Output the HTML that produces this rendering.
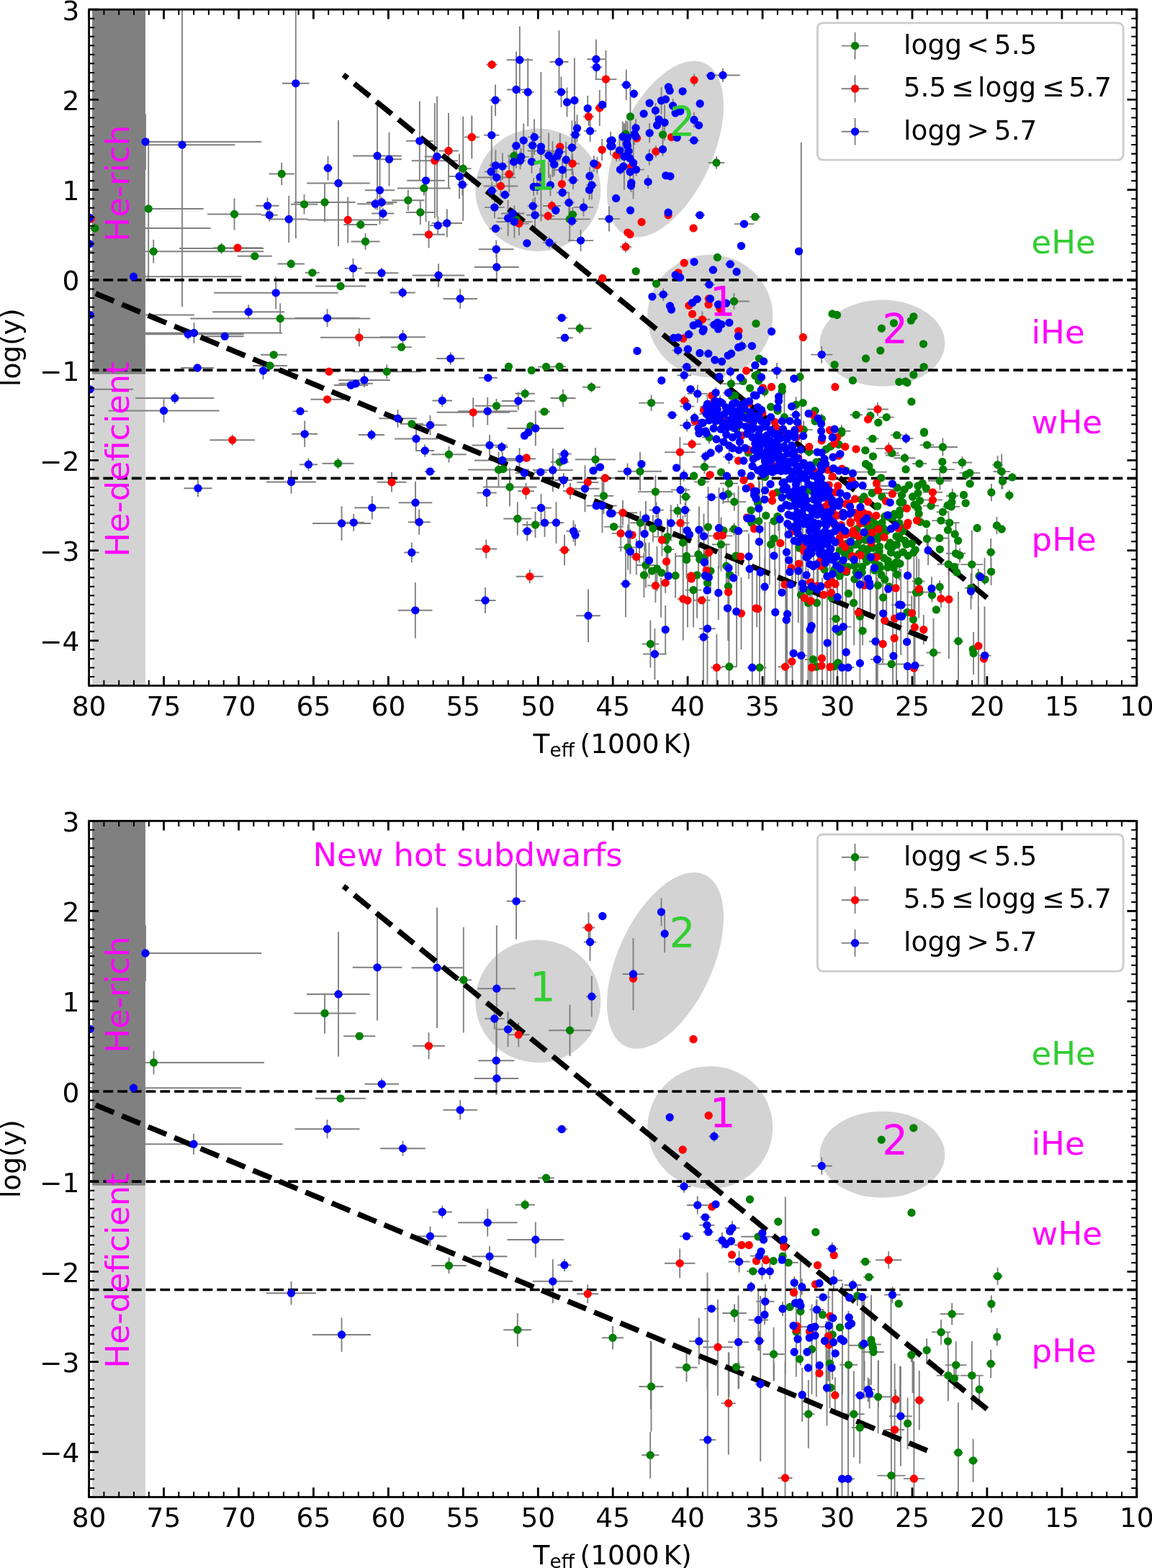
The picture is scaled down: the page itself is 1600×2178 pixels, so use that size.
<!DOCTYPE html>
<html lang="en"><head><meta charset="utf-8">
<title>log(y) versus Teff for hot subdwarfs</title>
<style>
html,body{margin:0;padding:0;background:#fff}
svg{display:block}
text{font-family:"DejaVu Sans","Liberation Sans",sans-serif}
.tl0{font-size:37.5px}
.tlx{font-size:37.6px}
.lg{font-size:37.5px}
.xl{font-size:37.5px}
.sub{font-size:26.3px}
.an{font-size:45px}
.dg{font-size:56.25px}
.eb{fill:none;stroke:#808080;stroke-width:1.875}
.hl{fill:none;stroke:#000;stroke-width:3.7;stroke-dasharray:13.79 5.96}
.tl{fill:none;stroke:#000;stroke-width:7.45;stroke-dasharray:27.55 11.91}
.mkg,.mkr,.mkb{fill:none;stroke-width:11.3;stroke-linecap:round}
.mkg{stroke:#008000}.mkr{stroke:#ff0000}.mkb{stroke:#0000ff}
.tk{fill:none;stroke:#000;stroke-width:2.8}
.mk{fill:none;stroke:#000;stroke-width:2.05}
.fr{fill:none;stroke:#000;stroke-width:2.8}
</style></head><body>
<svg width="1600" height="2178" viewBox="0 0 1600 2178">
<defs>
<clipPath id="clip0"><rect x="123.6" y="13.2" width="1455.2" height="939.2"/></clipPath>
<clipPath id="clip1"><rect x="123.6" y="1140.3" width="1455.2" height="939.2"/></clipPath>
</defs>
<rect width="1600" height="2178" fill="#fff"/>
<g>
<g clip-path="url(#clip0)">
<rect x="128.1" y="13.2" width="73.8" height="939.2" fill="#d3d3d3"/>
<ellipse cx="747.3" cy="263.7" rx="87" ry="85.2" fill="#d3d3d3"/>
<ellipse cx="924" cy="207.2" rx="131.3" ry="65.8" transform="rotate(-65.4 924 207.2)" fill="#d3d3d3"/>
<ellipse cx="986.3" cy="439.0" rx="87" ry="85.2" fill="#d3d3d3"/>
<ellipse cx="1225.4" cy="476.6" rx="87" ry="60" fill="#d3d3d3"/>
<path class="eb" d="M40.8 197H363.2M202 158.2V235.8M179.8 201.2H326.2M253 -23.8V426.2M373.8 241.5H408.8M391.2 226V257M130 290H282.5M206.2 192.5V387.5M288 297.5H363M325.5 275.5V319.5M355.5 285.8H387.5M371.5 274.5V297M363 298.8H385.5M374.2 290V307.5M-29 317H292.5M60.2 349.2H366.2M213.2 333V365.5M248.8 345H366.2M307.5 337.5V352.5M295.8 344.2H364.2M330 355.8H377.5M35.5 384.2H335.5M392 115.8H429.5M410.8 -99.8V331.2M449.2 233.5H461.8M455.5 216.5V250.5M426.2 254.5H513.8M470 167V342M403.8 283.8H441.2M422.5 270V297.5M408.5 281H493.5M451 253.5V308.5M375 304.5H427.5M401.2 272V337M427 305.5H539.5M483.2 273.5V337.5M477.5 312H524M500.8 305.8V318.2M487.5 335.5H527.5M507.5 324.2V346.8M385.5 366.5H423M404.2 360.2V372.8M423.8 378.8H443.8M478.5 372.8H502.5M490.5 359V386.5M506.8 379.2H553.2M530 371.8V386.8M438 397.5H508M490.2 216.5H557.8M524 141.5V291.5M523 221.2H558M540.5 183.8V258.8M507 264.2H548M527.5 216.8V311.8M496.2 283.2H546.2M521.2 275.8V290.8M509 281H551.5M530.2 273.5V288.5M516.2 296.5H547.2M531.8 289V304M544.2 278.2H589.2M566.8 263.8V292.8M551.8 261.5H625.8M588.8 251.5V271.5M563.8 295H603.8M583.8 278V312M565.2 250.8H617.8M591.5 193.2V308.2M564 195.8H601.5M582.8 140.8V250.8M571.8 223.2H635.8M603.8 143.2V303.2M589.5 217.5H624.5M607 133.8V301.2M609.2 209.5H636.8M623 157V262M632 234.2H654.5M643.2 161.8V306.8M623 245H653M638 213.8V276.2M634.8 256.5H649.8M642.2 241.5V271.5M644.8 190.5H665.8M655.2 160.5V220.5M597 313.2H619.5M608.2 300.8V325.8M599.5 310H642M620.8 290.5V329.5M573 325.8H618M595.5 307V344.5M572.8 382.5H645.2M609 366.2V398.8M645.4 190.4H665.4M655.4 160.4V220.4M672.1 187.8H693.4M682.8 146.5V229M733.4 190.4H750.9M742.1 165.4V215.4M727.2 171.4V218.9M710.6 202.5H723.1M716.9 171.2V233.8M732.1 201.9H747.1M739.6 183.1V220.6M751.4 100V307.5M732.6 209.5H770.1M751.4 194.5V224.5M771.5 204H784M777.8 185.2V222.8M786.9 205H801.9M794.4 167.5V242.5M801.5 159.5V197M791.5 187.2H806.5M799 168.5V206M810.9 181.9H828.4M819.6 166.9V196.9M810 161.9H825M817.5 149.4V174.4M836.2 193.1V223.1M841.9 195.6H854.4M848.1 183.1V208.1M847.8 190.6V215.6M705.2 216.5H722.8M714 201.5V231.5M712.5 217.9H735M723.8 205.4V230.4M715 223.1H730M722.5 210.6V235.6M704.8 224.8H722.2M713.5 206V243.5M732.2 224.6H744.8M738.5 208.4V240.9M754.6 215.9H769.6M762.1 184.6V247.1M766.6 210.9H786.6M776.6 198.4V223.4M768.1 216.2H780.6M774.4 201.2V231.2M767.5 196.2V246.2M763.4 228.4H775.9M769.6 212.1V244.6M780 221.9H792.5M786.2 196.9V246.9M785.1 227.2H805.1M795.1 214.8V239.8M767.5 236H795M781.2 223.5V248.5M818.5 227.2H831M824.8 216V238.5M823.1 229.4H835.6M829.4 218.1V240.6M679.6 229.8H697.1M688.4 208.5V251M690.4 231.1H705.4M697.9 212.4V249.9M672.8 238.5H691.5M682.1 226V251M663.4 246.5H715.9M689.6 234V259M699.8 241.9H714.8M707.2 216.9V266.9M671.8 258.5H719.2M695.5 243.5V273.5M675.8 265H690.8M683.2 252.5V277.5M693.9 270.5H708.9M701.4 264.2V276.8M750 233.4V258.4M741.2 246.9V271.9M746.2 248.1V270.6M764.4 242.2V272.2M780.4 243.1V268.1M788.4 250.2H803.4M795.9 237.8V262.8M819 232V257M814.4 257.2H829.4M821.9 237.2V277.2M818.5 250V277.5M773.1 267.5H789.4M781.2 261.2V273.8M782.8 281.5H797.8M790.2 266.5V296.5M796.8 287.9H824.2M810.5 275.4V300.4M673.1 288.1H700.6M686.9 273.1V303.1M732.8 286.2H747.8M740.2 276.2V296.2M754 286H779M766.5 278.5V293.5M771.9 286V298.5M731.2 298.8H755M743.1 273.8V323.8M752.4 300H769.9M761.1 293.8V306.2M789.1 298.1H801.6M795.4 288.1V308.1M762.5 304.4H820M791.2 274.4V334.4M786.2 307H802.5M794.4 299.5V314.5M695.9 296.5H728.4M712.1 289V304M690.6 303.1H720.6M705.6 278.1V328.1M689.4 308.1H739.4M714.4 285.6V330.6M707.1 310.6H734.6M720.9 294.4V326.9M679.6 317.5H697.1M753.8 336.9H772.5M763.1 329.4V344.4M789 334.1H824M806.5 319.1V349.1M664.9 346.2H713.6M689.2 333.8V358.8M831 304.1H861M846 286.6V321.6M675.6 89.8H690.6M683.1 83.5V96M703.6 83.2H739.9M721.8 36.4V130.1M763.4 86H789.6M776.5 42.2V129.8M703.9 124.5H730.1M717 71.4V177.6M725.1 128H741.4M733.2 80.5V175.5M679.9 139.2H696.1M688 117.4V161.1M770.1 127.8H788.9M779.5 106.5V149M787.5 121.4V162.6M797.9 80.6V198.1M815.4 82.2H840.4M827.9 54.8V109.8M820.2 93.4H836.5M828.4 85.9V100.9M826.5 110.1H856.5M841.5 70.1V150.1M816.2 133.1V168.1M826.5 150H839M832.8 125V175M862.2 117.9H877.2M869.8 96.6V139.1M880.4 124V136.5M964.1 102.5V120M981.1 105.4H993.6M980.2 104.5H1027.8M1004 95.1V113.9M918.5 121V158.5M934.6 136.9V156.9M910.4 143.5V163.5M875.5 118.1V205.6M923.1 145.2V195.2M964 155.9V177.1M883.1 165.2V190.2M902.2 171V198.5M920.6 174.6V199.6M869.1 167.5V205M864.8 168.8V211.2M871.5 168.8V213.8M881.2 171.2V201.2M956.2 195H971.2M843.8 195H856.2M870.6 181.9V216.9M860.6 193.8V223.8M871.5 191.2V213.8M848.8 215.6H863.8M856.2 206.9V224.4M866.9 171.2V263.8M879.6 176.2V276.2M861.5 228.1V243.1M872.2 235.6H894.8M883.5 226.9V244.4M875.2 228.8V248.8M876.5 249.4V266.9M901.8 207.1V229.6M910.9 202.2V218.5M920.5 198.1V216.9M900.1 243.2V262M983.8 226H1006.2M995 217.2V234.8M875 319.1V331.6M860.9 342.9H877.1M869 335.4V350.4M965.1 298.8H978.9M1041.2 301.2H1056.2M1019.8 311.1H1047.2M1007.2 366.9H1021M984.1 374.9H996.6M977.5 395.2H992.5M-20 437.5H270M65 540.8H185M297 406.8H469.5M383.2 384.2V429.2M295.2 433.2H395.2M345.2 423.2V443.2M264.2 442.5H514.2M389.2 421.2V463.8M409.5 441.8H499.5M454.5 429.2V454.2M183.8 464.2H338.8M261.2 456.8V471.8M147 462.5H392M269.5 448V477M286 467.2H338.5M445 468.8H552.5M498.8 456.2V481.2M362 492.8H398.5M351.2 508H398.8M251.2 511H297.2M365.5 503V527M442 516.2H472M463.8 535H511.2M470.5 532.8H518M431.5 554.8H477.5M188.2 553H297.2M242.8 545V561M150.5 570.5H304.5M227.5 554.2V586.8M406.5 571.2H427.5M405.2 602.8H441.2M423.2 584.5V621M291.5 611.2H354M322.8 603.8V618.8M416 645.2H441M428.5 636.5V654M447.5 643.8H491.5M469.5 636.2V651.2M370 669.5H439M404.5 653.2V685.8M255.5 678.2H294.5M275 666.2V690.2M434 727H515M474.5 703.2V750.8M476.2 725.8H506.2M491.2 713.8V737.8M541.8 406.5H576.8M559.2 399V414M615.5 415H663M639.2 401.2V428.8M772.2 441.5H788.2M789 456.2H821.5M805.2 448.8V463.8M773.2 469.2H795.8M528.2 468.2H590.8M559.5 458.2V478.2M543.2 482.2H571.8M606.2 498H645.2M625.8 489.2V506.8M489.8 516.2H584.8M537.2 506.2V526.2M470.2 528H541.8M506 518V538M747.2 509.5H769.8M768.2 509.2H785.8M664.8 524.8H690.8M809 537.8H834M821.5 530.8V544.8M715.5 546.8H743M729.2 539.8V553.8M696.8 557H742.8M719.8 544.5V569.5M764.5 553H799.5M782 541V565M600.5 556.5H628M614.2 547.8V565.2M659.5 563.8H719.5M689.5 553.8V573.8M606.5 572.8H708M657.2 552.2V593.2M636 571.2H718.5M677.2 552V590.5M747.8 571.8H764.2M526.2 581.2H578.8M552.5 568.8V593.8M555.5 588.8H588M574.5 590.5H620.5M597.5 576.8V604.2M498 604H534M516 596.5V611.5M548 609.5H608M578 592V627M577.2 626H603.2M590.2 617.2V634.8M599.2 631.2H647.8M623.5 620V642.5M704.5 595H783M743.8 570.5V619.5M655.5 618.5H704.5M680 604V633M688 621H705.5M696.8 613.5V628.5M699 637.2H744M721.5 622.2V652.2M659 639.5H736.5M697.8 628.2V650.8M650 652.5H735M692.5 627.5V677.5M589.8 655H604.8M715.8 657H740.8M742 655.8H759.5M739.8 653H795.8M767.8 623V683M774.5 630.5H793.5M784 623V638M765 641.8H790M777.5 631.8V651.8M770.2 667H795.2M782.8 657V677M799 638.2H855M827 622V654.5M815.5 664H865.5M801.2 670H831.2M792.5 678.8H832.5M812.5 646.2V711.2M782 682H802M792 670.8V693.2M824.8 688.8H852.2M838.5 663.8V713.8M523.5 669.8H564.5M544 656V683.5M670.5 676.5H745.5M708 649.8V703.2M662.2 684.5H689.8M676 665V704M719.2 682.2H741.8M730.5 671V693.5M492.2 705.2H541.2M516.8 689V721.5M553.8 698.2H600.2M577 668.8V727.8M566.8 725.2H597.8M582.2 707.8V742.8M737.2 705.5H765.8M751.5 686V725M699.2 720.5H738.2M718.8 697.2V743.8M725.5 729H761.5M743.5 711V747M746.5 726.2H766.5M756.5 706.8V745.8M762 726H783M772.5 697.2V754.8M724.8 737.8H739.8M732.2 724V751.5M786.5 737.8H806.5M796.5 722.8V752.8M799 728.2V758.2M814.5 702.5H842M816.5 702.5H856.5M836.5 665V740M561.2 767.5H582.2M571.8 753.8V781.2M660.2 762.5H690.2M675.2 749.5V775.5M776.5 764H791.5M784 742.8V785.2M717 800.8H754.5M735.8 791.2V810.2M553 847.8H600.5M576.8 809V886.5M659.5 834H688.5M674 816V852M800.2 855.2H833.8M817 818.5V892M913.8 409.1H928.8M921.2 400.4V417.9M961.9 415.6H974.4M998.2 418.5H1040.8M1019.5 407.2V429.8M964.1 443.8H986.6M975.4 432.5V455M984.4 451.2H999.4M949.1 464.4H964.1M956.6 458.1V470.6M933.5 486.6H949.8M941.6 479.1V494.1M1022.9 480.6H1037.9M1030.4 473.1V488.1M946.2 509.6H961.2M953.8 504V515.2M940.5 521.2H960M950.2 512.5V530M1014.4 508.8V523.8M1022.2 524.6H1034.8M1028.5 518.4V530.9M1002.9 533.1H1027.9M1015.4 525.6V540.6M952.9 540.6H965.4M954.4 546.9H983.1M968.8 534.4V559.4M980 549.6H997.5M994.1 538.1V553.1M1004 545.6H1019M1011.5 539.4V551.9M887.1 559.6H922.1M904.6 548.4V570.9M943.2 556.9H958.2M950.8 549.4V564.4M944.4 564.5H964.4M954.4 557V572M926 576.6H941M958.4 580.4H970.9M964.6 572.9V587.9M944.1 590.8H964.1M954.1 582V599.5M982.5 551.2V571.2M991.2 558.1H1008.8M1000 549.4V566.9M972.5 565H990M991.2 557.5V575M1008.8 559.4V574.4M971.2 575H991.2M981.2 567.5V582.5M968.8 587.5H983.8M993.8 575V595M970 587.5V602.5M1126.2 492.6H1156.2M1141.2 480.8V504.5M1067.1 515.2H1090.9M1079 504V526.5M1110.9 517.2V529.8M1061.9 536.2V551.2M1105.6 550.9V573.4M1089.4 541.9V616.9M1097.2 576.2H1113.5M1125.6 570.6H1138.1M1141.2 574.4V589.4M1103.8 596.9H1128.8M1116.2 584.4V609.4M1156.2 598.8H1181.2M1168.8 590V607.5M1180.4 576.2H1197.9M1208.8 571.2V583.8M1204.2 568.5H1233.8M1219 559.1V577.9M1220.6 579.6H1241.9M948.6 616.9H973.6M961.1 610V623.8M923.1 628.1H965.6M944.4 606.9V649.4M857.8 654.8H885.2M871.5 643.5V666M859 654.8H919M889 627.9V681.6M943.5 660.4H956M949.8 652.2V668.5M962.1 648.5H994.6M978.4 638.5V658.5M963.8 669.4H985M1000 671.5H1025M972.5 633.8H987.5M980 626.2V641.2M998.5 615.6V630.6M1003.8 634.6H1021.2M1012.5 624.6V644.6M975 607.5H995M985 598.8V616.2M886 683.1H934.8M910.4 660.6V705.6M931.9 680.4H958.1M945 660.4V700.4M945.6 690H959.4M952.5 677.5V702.5M979.4 690.6H996.9M1004.4 677.5V700M1002.5 686.2H1020M1011.2 676.2V696.2M1003.5 697.1H1036M1019.8 684.6V709.6M901.6 708.5H921.6M911.6 697.2V719.8M930 709.4H952.5M941.2 700V718.8M944 708.5H959M951.5 698.5V718.5M845 712.2H885M865 694.8V729.8M896.9 696V743.5M875.6 726.2H903.1M889.4 710V742.5M914.1 706.9V744.4M931.9 701.6V751.6M932.5 726.5H957.5M945 707.8V745.2M838.8 731.6H866.2M906.9 715.2V752.8M849.8 740.9H874.8M862.2 715.9V765.9M873.5 717.1V767.1M895.2 716.6V766.6M906.9 745.6H946.9M926.9 720.6V770.6M919.4 727.5V772.5M954.4 705.6V768.1M970.9 703.4V768.4M983.5 675.9V788.4M998.5 677.2V789.8M977.5 713.5V776M975 744.4H1017.5M1012.1 735H1027.1M1019.6 726.2V743.8M1011.8 737.5H1039.2M1025.5 675V800M948.4 716.2V791.2M989 756.2H1014M1001.5 718.8V793.8M888.1 731.2V781.2M859 760.4H885.2M872.1 729.1V791.6M875.4 735V797.5M873.8 773.5H893.8M883.8 748.5V798.5M918.8 763.1H936.2M927.5 731.9V794.4M938.5 772.5H968.5M953.5 741.2V803.8M970 738.8V801.2M977.5 743.8V806.2M978.4 756V806M901.5 753.4V803.4M883.1 785H910.6M896.9 753.8V816.2M925.6 755V805M1022.2 740.9V803.4M1040 741.6V804.1M1008.8 755V817.5M986.9 761.9V824.4M894.4 767.5V830M912.5 758.8V821.2M938.1 768.1V830.6M1216.2 623.1H1252.5M1234.4 614.4V631.9M1203.1 609.4H1220.6M1236.9 604.4H1254.4M1228.8 629.4H1248.8M1189.4 655.6H1231.9M1055 668.8V856.2M1062.5 725V825M1068.8 725V812.5M1076.2 725V800M1082.5 725V825M1091.2 725V812.5M1100 737.5V812.5M1105 712.5V812.5M1115 725V812.5M1119.4 725V825M1130 737.5V825M1136.2 737.5V812.5M1152.5 743.8V818.8M1162.5 731.2V818.8M1193.8 743.8V818.8M1200 737.5V812.5M1248.8 731.2V806.2M1053.8 656.2V693.8M1058.8 660V690M1081.2 712.5V737.5M1200 680H1250M1212.5 675H1250M1225 685H1250M1230 632.5H1250M1248.5 609.1H1268.5M1258.5 601.6V616.6M1277.5 618.1H1297.5M1288.8 621H1330M1309.4 608.5V633.5M1241.5 636.2H1271.5M1256.5 629.4V643.1M1266.9 644H1286.9M1293.5 652.1H1326M1322.8 642.5H1350.2M1336.5 633.8V651.2M1332.5 656.9H1361.2M1289.1 667.9H1321.6M1305.4 655.4V680.4M1378.1 645.6H1393.1M1385.6 633.1V658.1M1379.4 655H1403.1M1391.2 630.6V679.4M1392.5 657.1V679.6M1376.9 672.1V695.9M1401.9 680.6V695.6M1281.9 702.5H1304.4M1281.6 683.8H1309.1M1281.6 694.4H1309.1M1314 688.8H1331.5M1322.8 678.8V698.8M1309.4 703.8H1333.1M1300.6 711.2H1318.1M1294.4 723.1H1319.4M1305 726.2H1332.5M1384.4 718.1V741.9M1287.5 734.8V762.2M1292.2 747.5H1317.2M1289.1 743.8V785M1313.8 768.8H1341.2M1333.1 761.5V781.5M1370 767.1H1382.5M1376.2 747.8V786.5M1301.6 783.8H1332.9M1334.1 784.1H1365.4M1349.8 736.6V831.6M1376.6 775.4V812.9M1260.6 772.5V802.5M1269.4 772.5V802.5M1273.1 772.5V802.5M1276.2 776.2V803.8M1317.5 710V800M1367.5 775V812.5M1327.5 725V775M861.5 811H876.5M869 764.8V857.2M899.1 813.4H921.6M910.4 789.6V837.1M924.2 795V823.8M951.9 819.6H974.4M997.8 786V861M940.6 831.9H956.9M948.8 774.4V889.4M955 796.5V871.5M962.8 833.8H986.5M1029.5 802.1V902.1M924.2 840.9V908.4M971.2 873.2H993.8M969.5 885H985M891.5 894.5H915.2M903.4 861.4V927.6M893.1 908.5H925.6M909.4 872.9V944.1M987.2 927.2H1003.5M995.4 881V973.5M1002.2 926H1023.5M1037.9 927.2H1051.6M976.9 827.5V952.5M982.5 827.5V952.5M1012.5 790V952.5M1044.8 790V952.5M1023.1 803.8V926.2M918.1 802.5V857.5M968.1 801.2V858.8M963.1 816.2V871.2M1011.2 790V890M1062.1 775V855M1151.9 859.6H1170.6M1160 870.6H1182.5M1207.2 891H1224.8M1104.6 910.6H1120.9M1080.6 926.2H1100.6M1045.6 927.2H1064.4M1117.5 916H1141.2M1169.1 927.2H1186.6M1209 916H1227.8M1219.4 922.5H1256.9M1055 790V952.5M1061.9 790V952.5M1076.9 790V952.5M1091.2 790V952.5M1093.1 802.5V952.5M1100.6 790V952.5M1112.5 802.5V952.5M1115 790V952.5M1122.5 790V952.5M1125 815V952.5M1127.5 802.5V952.5M1135 790V952.5M1141.9 802.5V952.5M1148.8 790V952.5M1153.8 802.5V952.5M1157.5 815V952.5M1163.1 790V952.5M1170 790V952.5M1175 802.5V952.5M1186.2 783.8V896.2M1194.4 802.5V952.5M1198.1 796.2V896.2M1216.9 790V952.5M1218.8 802.5V952.5M1226.2 808.8V921.2M1240 790V952.5M1245 802.5V952.5M1051.2 796.2V871.2M1108.8 790V865M1208.8 790V852.5M1231.2 790V865M1266.9 807.5H1284.4M1259.4 822.5H1294.4M1294 801.2V833.8M1305.2 806.5V824M1294.5 816.6V836.6M1307 819.1V844.1M1317.9 750V915M1339.8 816.9H1357.2M1348.5 796.2V846.2M1238.1 840.4H1265.6M1282.8 854V895.2M1324.1 890.6H1337.9M1331 821.9V959.4M1286.5 906.5H1306.5M1296.5 859V954M1359 843.5V951M1352.1 878.1V936.9M1359 910.6H1376.5M1258.4 924.4H1283.4M1251.2 790V910M1260.6 790V952.5M1269.4 790V952.5M1270.6 802.5V952.5M1276.2 790V858.8M1367.5 842.5V951.2M1358.8 790V890M1266.2 827.5V852.5M1112.8 198V952M658.8 371H720.8M689.8 350V392"/>
<rect x="128.1" y="13.2" width="73.8" height="506.4" fill="#808080"/>
<path class="hl" d="M123.6 388.9H1578.8"/>
<path class="hl" d="M123.6 514.1H1578.8"/>
<path class="hl" d="M123.6 664.4H1578.8"/>
<path class="tl" d="M1370.9 830.3L477.0 103.9"/>
<path class="tl" d="M1287.8 887.8L123.6 403.9"/>
<path class="mkg" d="M391.2 241.5h0M206.2 290h0M325.5 297.5h0M131.8 317h0M213.2 349.2h0M307.5 345h0M353.8 355.8h0M422.5 283.8h0M451 281h0M500.8 312h0M507.5 335.5h0M404.2 366.5h0M433.8 378.8h0M473 397.5h0M566.8 278.2h0M588.8 261.5h0M583.8 295h0M643.2 234.2h0M714 216.5h0M795.4 298.1h0M791.2 304.4h0M716.9 305h0M875.5 161.9h0M920.6 187.1h0M869.1 186.2h0M995 226h0M1048.8 301.2h0M996.4 357.5h0M883.2 376.8h0M911.5 394.1h0M389.2 442.5h0M380.2 492.8h0M375 508h0M469.5 643.8h0M805.2 456.2h0M557.5 482.2h0M537.2 516.2h0M706.5 509.2h0M738.2 514.5h0M758.5 509.5h0M777 509.2h0M821.5 537.8h0M729.2 546.8h0M782 553h0M689.5 563.8h0M756 571.8h0M571.8 588.8h0M623.5 631.2h0M736.8 592h0M692.5 652.5h0M698.8 651.5h0M777.5 641.8h0M827 638.2h0M838.5 688.8h0M708 676.5h0M718.8 720.5h0M743.5 729h0M1019.5 418.5h0M1050 449.4h0M1031.9 529.4h0M1015.4 533.1h0M1041.6 539.1h0M1048.8 521.9h0M1016.2 550h0M1020.6 549.4h0M904.6 559.6h0M1035 570h0M1022.5 596.2h0M1156 436h0M1162.5 437.5h0M1224.4 456.2h0M1241.5 448.8h0M1222.8 486.9h0M1202.5 497.9h0M1159.1 506.6h0M1184.4 528.4h0M1248.8 530.4h0M1054.4 498.1h0M1051.9 520h0M1053.8 528.8h0M1110.9 523.5h0M1061.9 543.8h0M1086.2 537.5h0M1086.2 543.1h0M1070.6 565.2h0M1080 570.6h0M1105.6 562.1h0M1115.2 559.6h0M1089.4 579.4h0M1131.9 570.6h0M1141.2 581.9h0M1131.9 585h0M1116.2 596.9h0M1168.8 598.8h0M1189.1 576.2h0M1208.8 577.5h0M1231.2 579.6h0M1219.8 586.9h0M1268.8 439.8h0M1265.4 445.2h0M1282.5 477.8h0M1283.1 509.6h0M1268.8 520.5h0M1257.5 530h0M1260 531.6h0M1265.9 557.9h0M1283.5 600h0M889 654.8h0M963.8 661h0M978.4 648.5h0M1001.5 656h0M974.4 669.4h0M1012.5 671.5h0M1039.4 628.8h0M985 607.5h0M910.4 683.1h0M952.5 690h0M1011.2 686.2h0M1019.8 697.1h0M941.2 709.4h0M889.4 726.2h0M852.5 731.6h0M906.9 734h0M926.9 745.6h0M925 750h0M983.5 732.1h0M1005 736.9h0M1019.6 735h0M1043.1 708.8h0M1043.8 726.2h0M948.4 753.8h0M1001.5 756.2h0M872.1 760.4h0M927.5 763.1h0M953.5 772.5h0M953.5 777.5h0M970 770h0M971.9 776.9h0M977.5 775h0M896.9 785h0M1022.2 772.1h0M1008.8 786.2h0M986.9 793.1h0M894.4 798.8h0M905.6 793.1h0M912.5 790h0M918.8 795.6h0M938.1 799.4h0M968.1 798.8h0M1013.8 798.8h0M1168.8 601.2h0M1211.9 609.4h0M1245.6 604.4h0M1201.9 625.6h0M1238.8 629.4h0M1212.5 633.8h0M1153.8 620h0M1147.5 623.8h0M1165 617.5h0M1133.8 641.9h0M1202.5 644.4h0M1206.9 647.5h0M1210.6 655.6h0M1223.8 663.8h0M1123.8 627.5h0M1062.5 662.5h0M1175 653.8h0M1246.2 677.5h0M1211.2 685h0M1225 690h0M1200 690h0M1196.2 693.8h0M1218.8 703.1h0M1250 697.5h0M1250 708.8h0M1079.4 683.8h0M1123.8 681.2h0M1097.5 690h0M1052.5 698.8h0M1063.8 716.2h0M1080 717.5h0M1053.8 723.8h0M1075 723.8h0M1228.8 717.5h0M1240 718.8h0M1212.5 725h0M1225 726.2h0M1197.5 725h0M1206.2 732.5h0M1190 735h0M1231.2 737.5h0M1245 745h0M1236.2 753.8h0M1218.8 748.8h0M1202.5 750h0M1075 748.1h0M1070.6 756.2h0M1112.5 750h0M1110 761.2h0M1190 756.2h0M1180 763.8h0M1206.2 762.5h0M1221.2 766.2h0M1237.5 767.5h0M1233.8 758.8h0M1166.2 765h0M1197.5 763.8h0M1227.5 775h0M1233.8 782.5h0M1248.8 782.5h0M1222.5 788.8h0M1197.5 787.5h0M1187.5 785h0M1158.8 791.2h0M1145 791.2h0M1177.5 787.5h0M1203.8 780h0M1168.8 782.5h0M1185.6 743.5h0M1197.2 794.9h0M1245.3 756.5h0M1213.8 735.6h0M1239.1 760.1h0M1249.6 747.6h0M1218.3 748.4h0M1175.7 761.8h0M1198.6 761.6h0M1194.4 749.9h0M1189.2 794.9h0M1233.2 778.8h0M1173.5 769.5h0M1221.6 759.2h0M1189.2 736.1h0M1215.7 772.7h0M1186.5 785.9h0M1204.4 740.8h0M1248.9 726.6h0M1246.4 770.9h0M1212 719.9h0M1223 742h0M1242.2 714h0M1212.3 743.5h0M1215.2 727.5h0M1224 798.6h0M1175.6 794.7h0M1176.4 755h0M1214.1 779.1h0M1249.1 715.4h0M1202.4 774.9h0M1234.4 718h0M1227.1 733.9h0M1214.7 792.2h0M1244.3 781.5h0M1181.6 773.4h0M1201.1 726.8h0M1193.1 769.2h0M1212.8 761h0M1233 788h0M1187.5 756.4h0M1221.1 785.5h0M1241.2 788.4h0M1204.2 764.7h0M1245.8 798h0M1283.5 601.2h0M1287.5 618.1h0M1309.4 621h0M1256.5 636.2h0M1276.9 644h0M1258.1 651.9h0M1308.8 641.5h0M1309.8 652.1h0M1336.5 642.5h0M1341.9 659.4h0M1346.9 656.9h0M1305.4 667.9h0M1347.2 671.9h0M1385.6 645.6h0M1391.2 655h0M1405.9 662.9h0M1392.5 668.4h0M1376.9 684h0M1401.9 688.1h0M1262.5 673.8h0M1275 675h0M1281.2 671.2h0M1286.2 678.1h0M1256.2 680h0M1252.5 687.5h0M1267.5 690h0M1275 685h0M1277.5 695.6h0M1253.8 698.1h0M1270 701.2h0M1275 706.2h0M1276.2 713.8h0M1250 708.8h0M1293.1 702.5h0M1322.8 688.8h0M1338.5 687.5h0M1321.9 697.5h0M1341.2 698.8h0M1316.2 701.9h0M1321.2 703.8h0M1309.4 711.2h0M1306.9 723.1h0M1318.8 726.2h0M1286.6 727.8h0M1278.1 725h0M1316.5 736.2h0M1326.2 741.9h0M1330.6 751h0M1357.2 733.5h0M1384.4 730h0M1391.2 735h0M1287.5 748.5h0M1304.8 747.5h0M1250 731.2h0M1253.8 737.5h0M1256.9 751.2h0M1258.8 756.2h0M1266.2 755h0M1271.2 763.8h0M1268.8 767.5h0M1254.4 766.9h0M1261.2 771.9h0M1250 783.1h0M1305.4 763.1h0M1327.5 768.8h0M1333.1 771.5h0M1376.2 767.1h0M1317.2 783.8h0M1325.6 787.5h0M1328.8 795h0M1349.8 784.1h0M1376.6 794.1h0M1360 800h0M982.5 810h0M963.1 819.6h0M1011.5 814.4h0M903.4 894.5h0M1012.9 926h0M1166.2 800h0M1186.9 804.4h0M1219.4 813.1h0M1228.8 805h0M1235 815h0M1112.5 826.2h0M1123.8 821.2h0M1122.5 837.5h0M1134.4 837.5h0M1155 830h0M1178.4 824.4h0M1185.6 837.5h0M1226.6 830h0M1194.4 856.2h0M1161.2 859.6h0M1165 877.5h0M1198.1 876.2h0M1055 927.2h0M1129.4 916h0M1134 926.2h0M1158.8 925.6h0M1163.8 920.6h0M1238.1 922.5h0M1368.1 805h0M1275.6 807.5h0M1272.5 823.1h0M1276.9 822.5h0M1305.2 815.2h0M1294.5 826.6h0M1348.5 816.9h0M1300.4 846.9h0M1260 850.6h0M1268.4 860.6h0M1331 890.6h0M1296.5 906.5h0M1351.2 901.9h0M1352.1 907.5h0"/>
<path class="mkr" d="M126.2 304h0M330 344.2h0M483.2 305.5h0M603.8 223.2h0M623 209.5h0M655.2 190.5h0M595.5 325.8h0M655.4 190.4h0M777.8 204h0M817.5 161.9h0M836.2 208.1h0M795.1 227.2h0M829.4 229.4h0M707.2 241.9h0M695.5 258.5h0M780.4 255.6h0M766.5 286h0M761.1 300h0M720.9 310.6h0M683.1 89.8h0M841.5 110.1h0M832.8 150h0M964.1 111.2h0M932.5 190.6h0M884.6 192.1h0M856.2 215.6h0M876.2 231.9h0M910.9 210.4h0M928.1 298.8h0M891.1 308.4h0M871.9 323.1h0M875 325.4h0M869 342.9h0M963.1 316.9h0M950.2 365.2h0M941.9 378.8h0M498.8 468.8h0M457 516.2h0M454.5 554.8h0M322.8 611.2h0M836.8 386.5h0M657.2 572.8h0M731.2 636h0M840.5 664h0M816.2 670h0M792 682h0M544 669.8h0M730.5 682.2h0M675.2 762.5h0M784 764h0M735.8 800.8h0M956.9 424.4h0M984.4 415h0M984.1 423.1h0M1000 428.8h0M961.6 436.2h0M975.4 443.8h0M1025.9 459.8h0M948.8 470.2h0M1036.5 515h0M988.8 549.6h0M950.8 556.9h0M965.2 585h0M977.5 569.4h0M987.5 561.2h0M1007.5 585h0M1040 560h0M1042.5 583.8h0M1047.5 581.2h0M1115.4 468.5h0M1159.9 537.5h0M1059.4 538.8h0M1071.5 537.5h0M1058.8 573.8h0M1128.8 576h0M1076.2 586.2h0M1110 595h0M1078.8 595h0M1152.5 597.5h0M1219 568.5h0M1205.6 582.5h0M961.1 616.9h0M944.4 628.1h0M986.2 659.6h0M1032.9 666.9h0M1042.5 676.2h0M1025.6 640h0M1030 605h0M1040 625h0M865 712.2h0M945 726.5h0M862.2 740.9h0M878.1 743.1h0M919.4 750h0M996.2 744.4h0M1003.5 743.8h0M1047.5 734.4h0M1037.5 718.8h0M883.8 773.5h0M984.6 767.5h0M925.6 780h0M1028.8 773.1h0M981.2 792.5h0M960 800h0M1091.2 606.2h0M1106.2 607.5h0M1123.8 620.6h0M1141.2 611.9h0M1158.8 616.2h0M1162.5 607.5h0M1173.8 620.6h0M1189 623.8h0M1234.4 623.1h0M1108.8 636.2h0M1075.6 648.1h0M1066.2 625h0M1165 633.1h0M1149.4 652.5h0M1169.4 651.2h0M1156.2 661.9h0M1131.2 655h0M1183.1 667.5h0M1217.5 671.2h0M1219.4 681.2h0M1239.4 686.2h0M1163.8 675h0M1151.2 673.8h0M1160 683.8h0M1073.1 686.2h0M1072.5 695.6h0M1187.5 693.1h0M1205.6 696.9h0M1230.6 696.2h0M1146.2 703.8h0M1175 700h0M1162.5 716.2h0M1187.5 712.5h0M1197.5 711.2h0M1206.2 715h0M1216.9 716.2h0M1191.2 720h0M1181.2 725h0M1220 735h0M1211.2 740h0M1185 737.5h0M1192.5 745h0M1228.1 746.2h0M1175 742.5h0M1166.2 747.5h0M1101.2 737.5h0M1083.8 754.4h0M1116.2 755h0M1136.2 761.2h0M1116.2 765h0M1173.8 760h0M1168.8 755h0M1195 771.2h0M1183.8 772.5h0M1217.5 773.8h0M1138.8 780h0M1109.4 783.1h0M1098.8 788.8h0M1175 793.1h0M1140 786.2h0M1210 753.8h0M1247.5 733.8h0M1158.1 728.1h0M1168.7 737.7h0M1181.4 726.6h0M1179.3 699.3h0M1156 709.5h0M1168.4 729.4h0M1184.7 740.9h0M1199.8 712.8h0M1194.9 727h0M1154.2 721.9h0M1150.7 698.2h0M1203.7 723.8h0M1196.9 720.8h0M1170.5 712.5h0M1295.4 683.8h0M1295.4 694.4h0M1259.4 706.2h0M1273.5 722.9h0M1261 726.2h0M1260 730h0M910.4 813.4h0M924.2 809.4h0M960.2 804.1h0M1011.6 822.5h0M948.8 831.9h0M955 834h0M974.6 833.8h0M1029.5 852.1h0M1050 845h0M995.4 927.2h0M1090 811.9h0M1125.6 808.8h0M1135 813.8h0M1150 811.9h0M1155 807.5h0M1160 811.2h0M1200.6 813.1h0M1244.1 816.9h0M1117.5 830.6h0M1126.2 834.8h0M1144 826.2h0M1154.4 823.5h0M1052.5 845.6h0M1192.5 851h0M1228.8 861.9h0M1242.5 859.1h0M1226.2 894.4h0M1242.2 886.5h0M1099.8 918.8h0M1090.6 926.2h0M1141.5 914.4h0M1140.9 924.8h0M1127.5 927.2h0M1152.9 926.5h0M1276.5 818.1h0M1307 831.6h0M1317.9 832.5h0M1266.5 851.6h0M1270.4 871.2h0M1282.8 874.6h0M1359 897.2h0M1366.5 915h0M1269.4 928.1h0"/>
<path class="mkb" d="M202 197h0M253 201.2h0M371.5 285.8h0M374.2 298.8h0M124.5 302.5h0M124.5 338.8h0M185.5 384.2h0M410.8 115.8h0M455.5 233.5h0M470 254.5h0M401.2 304.5h0M490.5 372.8h0M530 379.2h0M524 216.5h0M540.5 221.2h0M527.5 264.2h0M521.2 283.2h0M530.2 281h0M531.8 296.5h0M591.5 250.8h0M582.8 195.8h0M607 217.5h0M638 245h0M642.2 256.5h0M608.2 313.2h0M620.8 310h0M609 382.5h0M682.8 187.8h0M742.1 190.4h0M727.2 195.1h0M716.9 202.5h0M739.6 201.9h0M751.4 203.8h0M751.4 209.5h0M794.4 205h0M801.5 178.2h0M799 187.2h0M819.6 181.9h0M848.1 195.6h0M847.8 203.1h0M723.8 217.9h0M722.5 223.1h0M713.5 224.8h0M738.5 224.6h0M762.1 215.9h0M776.6 210.9h0M774.4 216.2h0M767.5 221.2h0M769.6 228.4h0M786.2 221.9h0M781.2 236h0M824.8 227.2h0M688.4 229.8h0M697.9 231.1h0M682.1 238.5h0M689.6 246.5h0M683.2 265h0M701.4 270.5h0M750 245.9h0M741.2 259.4h0M746.2 259.4h0M764.4 257.2h0M795.9 250.2h0M819 244.5h0M821.9 257.2h0M818.5 263.8h0M781.2 267.5h0M790.2 281.5h0M810.5 287.9h0M686.9 288.1h0M740.2 286.2h0M771.9 292.2h0M743.1 298.8h0M794.4 307h0M712.1 296.5h0M705.6 303.1h0M714.4 308.1h0M688.4 317.5h0M731.9 337.8h0M763.1 336.9h0M806.5 334.1h0M689.2 346.2h0M846 304.1h0M721.8 83.2h0M776.5 86h0M717 124.5h0M733.2 128h0M688 139.2h0M779.5 127.8h0M787.5 142h0M797.9 139.4h0M827.9 82.2h0M828.4 93.4h0M816.2 150.6h0M836.6 145.4h0M869.8 117.9h0M880.4 130.2h0M987.4 105.4h0M1004 104.5h0M928.4 120.9h0M930.2 125.9h0M948.1 126.8h0M902.1 143.2h0M918.5 139.8h0M924.5 137.9h0M934.6 146.9h0M972.2 144h0M910.4 153.5h0M894.1 157.9h0M938.1 157.1h0M944.8 154.6h0M915.2 166h0M923.1 170.2h0M912.5 174h0M964 166.5h0M970.6 174.1h0M883.1 177.8h0M902.2 184.8h0M940.2 191.2h0M864.8 190h0M871.5 191.2h0M881.2 186.2h0M882.8 189.4h0M963.8 195h0M850 195h0M870.6 199.4h0M850 203.1h0M860.6 208.8h0M871.5 202.5h0M873.1 210h0M866.9 217.5h0M875 220h0M879.6 226.2h0M865.9 231.2h0M861.5 235.6h0M883.5 235.6h0M875.2 238.8h0M876.9 254h0M876.5 258.1h0M901.8 218.4h0M920.5 207.5h0M900.1 252.6h0M924.8 243.8h0M931 244.8h0M855.6 275.5h0M875.5 292.2h0M928.1 295.2h0M972 298.8h0M1033.5 311.1h0M1029.5 341.6h0M964.1 363.8h0M1014.1 366.9h0M990.4 374.9h0M1023.1 377.5h0M938.1 382.1h0M944.6 385.4h0M985 395.2h0M125 437.5h0M125 540.8h0M383.2 406.8h0M345.2 433.2h0M454.5 441.8h0M261.2 464.2h0M269.5 462.5h0M312.2 467.2h0M274.2 511h0M365.5 515h0M487.5 535h0M494.2 532.8h0M242.8 553h0M227.5 570.5h0M417 571.2h0M423.2 602.8h0M428.5 645.2h0M404.5 669.5h0M275 678.2h0M474.5 727h0M491.2 725.8h0M559.2 406.5h0M639.2 415h0M780.2 441.5h0M784.5 469.2h0M559.5 468.2h0M625.8 498h0M506 528h0M677.8 524.8h0M719.8 557h0M614.2 556.5h0M677.2 571.2h0M552.5 581.2h0M597.5 590.5h0M516 604h0M578 609.5h0M590.2 626h0M743.8 595h0M733.8 600.5h0M728.5 605.2h0M680 618.5h0M696.8 621h0M721.5 637.2h0M697.8 639.5h0M597.2 655h0M728.2 657h0M750.8 655.8h0M767.8 653h0M784 630.5h0M783 639.5h0M782.8 667h0M833.5 648.8h0M824 653.8h0M812.5 678.8h0M676 684.5h0M516.8 705.2h0M577 698.2h0M582.2 725.2h0M751.5 705.5h0M756.5 726.2h0M772.5 726h0M732.2 737.8h0M796.5 737.8h0M799 743.2h0M828.2 702.5h0M836.5 702.5h0M847.5 713h0M571.8 767.5h0M576.8 847.8h0M674 834h0M817 855.2h0M905.9 412.1h0M921.2 409.1h0M930.6 425h0M932.5 430h0M961.6 420.6h0M968.1 415.6h0M986.5 415h0M997.5 422.9h0M1008.5 421.2h0M963.1 451.9h0M969.6 449.4h0M977.2 457.5h0M976.2 460h0M991.9 451.2h0M996.5 448.1h0M1001.9 450.6h0M997.5 456.9h0M1012.9 448.2h0M1025.4 466.9h0M956.6 464.4h0M935.6 469.4h0M941.9 468.8h0M885 487.5h0M941.6 486.6h0M955.4 485h0M971.9 490.4h0M983.8 491.2h0M992.9 500h0M1002.5 502.2h0M1011.2 493.8h0M1015.6 491.2h0M1025.6 482.5h0M1030.4 480.6h0M1044.4 480.6h0M953.8 509.6h0M950.2 521.2h0M918.8 528.5h0M1014.4 516.2h0M999 523.5h0M1028.5 524.6h0M1048.8 507.5h0M959.1 540.6h0M968.8 546.9h0M994.1 545.6h0M1011.5 545.6h0M954.4 564.5h0M933.5 576.6h0M964.6 580.4h0M954.1 590.8h0M982.5 561.2h0M1000 558.1h0M981.2 565h0M991.2 566.2h0M996.2 568.8h0M1008.8 566.9h0M1021.9 559.4h0M1017.5 561.2h0M1027.5 562.5h0M1040.6 557.5h0M1047.5 548.8h0M981.2 575h0M987.5 573.8h0M997.5 576.2h0M1006.2 575h0M1016.2 572.5h0M1025 571.2h0M1033.8 567.5h0M1042.5 572.5h0M976.2 587.5h0M985 583.8h0M993.8 585h0M1003.8 587.5h0M1012.5 583.8h0M1021.2 581.2h0M1030 578.8h0M1038.8 581.2h0M1046.2 586.2h0M970 595h0M980 598.8h0M991.2 595h0M1001.2 596.2h0M1010 593.8h0M1018.8 591.2h0M1027.5 590h0M1036.2 592.5h0M1045 596.2h0M983.9 572.1h0M986.1 579.5h0M1029.2 577.7h0M974.7 587.1h0M1025.7 584.2h0M1017.8 578.2h0M1000 579.4h0M1019.5 594.4h0M1046.3 593.2h0M1034.7 559.7h0M1043.9 575.1h0M1002.4 559.6h0M983.5 562.9h0M1038.6 593.7h0M1017.9 569.8h0M1047.2 582.3h0M1008.3 566.1h0M993.6 563.7h0M995.1 575.2h0M1004 592.8h0M1035.1 580.4h0M993.2 556.9h0M1071.6 460.5h0M1141.2 492.6h0M1060.6 501.9h0M1079 515.2h0M1057.5 524h0M1102.8 526h0M1057.2 541.9h0M1081.6 550.9h0M1081.6 556.9h0M1080 566.2h0M1099.6 564.6h0M1050 549.4h0M1052.5 565.6h0M1057.5 569.4h0M1053.8 577.5h0M1070.6 579.4h0M1105.4 576.2h0M1123.1 574.4h0M1136.2 581.2h0M1140.6 588.8h0M1086.2 585h0M1096.9 584.8h0M1107.5 586.5h0M1057.5 585h0M1065 587.5h0M1103.8 597.5h0M1087.5 596.2h0M1070.6 597.5h0M1055 596.2h0M1062.5 592.5h0M1140.6 598.8h0M1159.1 596.2h0M1109.5 349.1h0M890.9 644.6h0M871.5 654.8h0M939.6 649.8h0M949.8 660.4h0M1009.6 661.2h0M1030 657.2h0M1043.1 660.9h0M1036.2 678.4h0M980 633.8h0M987.1 629h0M998.5 623.1h0M1012.5 634.6h0M1032.8 640h0M970.9 601.9h0M981.2 601.9h0M995 610h0M1005 613.8h0M1008.8 603.8h0M1017.5 607.5h0M1025 603.8h0M1012.5 618.8h0M1017.5 622.5h0M1027.5 613.8h0M1026.2 625h0M1035 622.5h0M1045 607.5h0M1047.5 625h0M1046.2 637.5h0M1045 647.5h0M1037.5 602.5h0M1048.8 616.2h0M945 680.4h0M988.1 690.6h0M1004.4 688.8h0M1047.5 687.5h0M1047.5 682.5h0M911.6 708.5h0M951.5 708.5h0M850 713.1h0M896.9 719.8h0M914.1 725.6h0M931.9 726.6h0M873.5 742.1h0M895.2 741.6h0M954.4 736.9h0M957.5 742.5h0M970.9 735.9h0M998.5 733.5h0M977.5 744.8h0M1025.5 737.5h0M1038.1 720h0M1043.8 719.8h0M888.1 756.2h0M875.4 766.2h0M978.4 781h0M901.5 778.4h0M1040 772.9h0M1012.1 789h0M1041.2 790.2h0M928.4 800h0M979.4 799.4h0M1053.8 603.8h0M1063.8 606.2h0M1075 602.5h0M1085 607.5h0M1095 602.5h0M1103.8 607.5h0M1115.6 605.6h0M1141.9 608.1h0M1156.2 607.5h0M1070 612.5h0M1057.5 616.2h0M1055 622.5h0M1066.2 618.8h0M1078.8 616.2h0M1088.8 620h0M1100 618.8h0M1111.9 624.4h0M1135 628.1h0M1141.2 628.8h0M1057.5 631.2h0M1072.5 631.2h0M1083.8 633.8h0M1093.8 630h0M1102.5 632.5h0M1156.9 635h0M1166.9 630.6h0M1145 637.5h0M1062.5 641.2h0M1087.5 646.2h0M1097.5 641.2h0M1106.2 647.5h0M1116.2 643.1h0M1125 646.2h0M1140 647.5h0M1157.5 650.6h0M1127.5 650h0M1057.5 655h0M1078.8 653.1h0M1091.2 653.8h0M1102.5 656.2h0M1112.5 658.8h0M1121.2 655h0M1137.5 658.8h0M1165 653.8h0M1173.8 654.4h0M1184.4 657.5h0M1060 658.8h0M1070 672.5h0M1088.8 670h0M1097.5 665h0M1106.2 670h0M1127.5 675h0M1137.5 666.2h0M1143.8 673.8h0M1180 675h0M1187.5 673.1h0M1198.1 674.4h0M1239.4 671.9h0M1135 663.8h0M1062.5 681.2h0M1050 682.5h0M1092.5 677.5h0M1103.8 681.2h0M1115 680h0M1131.2 686.2h0M1140 681.2h0M1151.2 681.2h0M1166.9 685h0M1176.2 688.8h0M1061.9 693.8h0M1086.2 691.2h0M1096.2 687.5h0M1108.8 692.5h0M1120 695h0M1130 693.8h0M1142.5 691.2h0M1156.2 695h0M1166.2 696.2h0M1236.2 698.1h0M1050 692.5h0M1053.8 706.2h0M1085 706.2h0M1091.9 701.2h0M1103.8 702.5h0M1115 702.5h0M1125 706.2h0M1135 702.5h0M1157.5 703.8h0M1165 702.5h0M1180.6 703.8h0M1195 704.4h0M1171.2 712.5h0M1182.5 711.2h0M1083.1 721.2h0M1095 715h0M1105 718.8h0M1115 716.2h0M1125 718.8h0M1135 715h0M1145 718.8h0M1151.2 715h0M1171.2 717.5h0M1180 713.8h0M1203.8 720h0M1233.1 715.6h0M1200 723.8h0M1055 735h0M1093.8 727.5h0M1106.2 728.8h0M1116.2 727.5h0M1127.5 731.2h0M1137.5 727.5h0M1147.5 730h0M1160 728.8h0M1168.8 732.5h0M1173.8 737.5h0M1160 737.5h0M1107.5 733.8h0M1200 739.4h0M1237.5 734.4h0M1243.8 730h0M1095 742.5h0M1125 737.5h0M1135 741.2h0M1145 738.8h0M1153.8 741.2h0M1130 747.5h0M1140 747.5h0M1103.1 751.2h0M1054.4 752.5h0M1121.2 752.5h0M1130 755h0M1148.8 756.2h0M1160 753.1h0M1181.2 752.5h0M1209.4 750h0M1125 762.5h0M1153.8 762.5h0M1092.5 766.9h0M1075 771.9h0M1122.5 772.5h0M1138.8 769.4h0M1150 767.5h0M1161.2 772.5h0M1186.2 777.5h0M1209.4 773.8h0M1156.2 777.5h0M1171.2 778.1h0M1095.6 778.1h0M1125 783.8h0M1133.8 783.8h0M1146.2 781.9h0M1167.5 790h0M1214.4 788.8h0M1056.2 795h0M1096.9 794.4h0M1108.8 793.1h0M1120 798.8h0M1156.2 797.5h0M1192.5 798.8h0M1052.5 653.1h0M1079 602.8h0M1051.7 634.2h0M1067.1 649.2h0M1102.7 627.4h0M1090.6 640.8h0M1096.8 643.5h0M1075.2 629.8h0M1078.5 612.8h0M1081.7 625.1h0M1084.7 654.3h0M1102.2 641.8h0M1058.4 650.8h0M1103.5 600.5h0M1078.6 619.5h0M1054.8 623.9h0M1076.1 650.1h0M1107.8 636.6h0M1086.2 635.9h0M1090.7 646.7h0M1061.9 610.3h0M1091.4 623.7h0M1073.2 622h0M1083.8 648.4h0M1065.3 654.9h0M1069.8 634h0M1066.9 615.4h0M1080 635.3h0M1093 610h0M1105.8 656.3h0M1100.6 620.3h0M1066.8 621.6h0M1073.2 655.8h0M1065.3 604.6h0M1054.3 607.5h0M1061.3 635.1h0M1108.3 649.4h0M1071.1 639.7h0M1053.8 613.2h0M1083.6 609.1h0M1082.5 642.5h0M1063 629.4h0M1087.8 680h0M1112.2 664h0M1093.1 647.1h0M1105.5 673.3h0M1140.7 646h0M1113.1 647.1h0M1119.6 665.3h0M1089.1 653h0M1101.6 664.8h0M1140.6 664.2h0M1096.4 683.7h0M1131.8 679.7h0M1112.9 681.2h0M1109.1 654.4h0M1086.9 671h0M1113.4 658.4h0M1141.9 682.6h0M1133.8 686.4h0M1141 652.7h0M1122.6 649.4h0M1102.6 686.3h0M1096.7 653.9h0M1122.7 672.6h0M1086.7 646.8h0M1133.9 673.2h0M1146.5 644.5h0M1146.6 675h0M1129.2 660.8h0M1118.5 747.7h0M1109.5 726h0M1151.8 720h0M1125.4 746.9h0M1125 731.3h0M1135.3 740h0M1134.5 755.2h0M1105.6 719.8h0M1112.9 747.2h0M1108.7 752.5h0M1112.7 693.8h0M1106 734.6h0M1141.3 754.3h0M1157.6 725.5h0M1107 700.8h0M1134.3 733.1h0M1117 705.5h0M1152.8 690.9h0M1114.1 714.1h0M1139.5 746.8h0M1119 719.1h0M1153.8 710.7h0M1117.8 689.6h0M1109.9 687.6h0M1120.6 753.1h0M1146 690.1h0M1155.9 698.5h0M1148.1 711.4h0M1138.2 704.5h0M1135.9 697.5h0M1130.6 725.9h0M1144.6 716.6h0M1147.5 723.9h0M1148.3 740.2h0M1119.8 727.4h0M1122.9 704.6h0M1108.2 740.9h0M1155 749.1h0M1096.5 702.9h0M1140.9 710.6h0M1103.6 694h0M1099.8 716.6h0M1130.7 749.1h0M1147 754.5h0M1098.2 731.7h0M1131.7 693.5h0M1128.6 713.3h0M1129.2 706.7h0M1107.6 711.7h0M1148.1 748.4h0M1120.1 774.1h0M1131.5 760.9h0M1133.3 751.6h0M1147 779.3h0M1152.8 770.9h0M1145.6 772.7h0M1139.9 757.3h0M1149.2 751.3h0M1121.6 767.3h0M1138.6 769.1h0M1129.7 786.6h0M1127.1 756h0M1161.8 785.4h0M1140.1 763.3h0M1161.4 773.6h0M1127.1 768.6h0M1258.5 609.1h0M1289.1 764.4h0M1260.6 799.4h0M1361.9 801.5h0M869 811h0M984.4 801.9h0M982.1 820h0M997.8 823.5h0M1018.8 802.8h0M1010.5 844.8h0M1022.8 849.4h0M924.2 874.6h0M982.5 873.2h0M977.2 885h0M909.4 908.5h0M1044.8 927.2h0M1062.1 815h0M1098.1 811.9h0M1086 823.1h0M1114.4 810.6h0M1115.6 817.5h0M1127.5 814.4h0M1135 818.8h0M1140 814.4h0M1148.8 800.6h0M1194.4 811.9h0M1205.6 803.8h0M1207.5 809.4h0M1208.1 813.8h0M1233.8 818.1h0M1163.1 829.5h0M1248.8 840h0M1076.8 850.4h0M1093.5 852.9h0M1092.2 861h0M1226.6 852.1h0M1249.4 856.2h0M1127.2 869.4h0M1125.2 874.4h0M1161 873.4h0M1171.2 870.6h0M1149.1 893.1h0M1216 891h0M1102.1 907.5h0M1112.8 910.6h0M1169.4 927.2h0M1177.9 927.2h0M1175.2 906h0M1194.4 921.2h0M1218.4 916h0M1240.9 911.2h0M1294 817.5h0M1348.5 821.2h0M1251.9 840.4h0M1252.5 856.2h0M1259.6 891.6h0M1367.8 910.6h0M1260.4 925.4h0M1270.9 924.4h0M689.8 371h0"/>
</g>
<path class="tk" d="M123.6 13.2v13.3M123.6 952.4250000000001v-13.3M227.5 13.2v13.3M227.5 952.4250000000001v-13.3M331.5 13.2v13.3M331.5 952.4250000000001v-13.3M435.4 13.2v13.3M435.4 952.4250000000001v-13.3M539.4 13.2v13.3M539.4 952.4250000000001v-13.3M643.3 13.2v13.3M643.3 952.4250000000001v-13.3M747.3 13.2v13.3M747.3 952.4250000000001v-13.3M851.2 13.2v13.3M851.2 952.4250000000001v-13.3M955.1 13.2v13.3M955.1 952.4250000000001v-13.3M1059.1 13.2v13.3M1059.1 952.4250000000001v-13.3M1163.0 13.2v13.3M1163.0 952.4250000000001v-13.3M1267.0 13.2v13.3M1267.0 952.4250000000001v-13.3M1370.9 13.2v13.3M1370.9 952.4250000000001v-13.3M1474.9 13.2v13.3M1474.9 952.4250000000001v-13.3M1578.8 13.2v13.3M1578.8 952.4250000000001v-13.3M123.6 13.2h13.3M1578.8 13.2h-13.3M123.6 138.4h13.3M1578.8 138.4h-13.3M123.6 263.7h13.3M1578.8 263.7h-13.3M123.6 388.9h13.3M1578.8 388.9h-13.3M123.6 514.1h13.3M1578.8 514.1h-13.3M123.6 639.4h13.3M1578.8 639.4h-13.3M123.6 764.6h13.3M1578.8 764.6h-13.3M123.6 889.8h13.3M1578.8 889.8h-13.3"/>
<path class="mk" d="M144.4 13.2v7.6M144.4 952.4250000000001v-7.6M165.2 13.2v7.6M165.2 952.4250000000001v-7.6M186.0 13.2v7.6M186.0 952.4250000000001v-7.6M206.8 13.2v7.6M206.8 952.4250000000001v-7.6M248.3 13.2v7.6M248.3 952.4250000000001v-7.6M269.1 13.2v7.6M269.1 952.4250000000001v-7.6M289.9 13.2v7.6M289.9 952.4250000000001v-7.6M310.7 13.2v7.6M310.7 952.4250000000001v-7.6M352.3 13.2v7.6M352.3 952.4250000000001v-7.6M373.1 13.2v7.6M373.1 952.4250000000001v-7.6M393.9 13.2v7.6M393.9 952.4250000000001v-7.6M414.6 13.2v7.6M414.6 952.4250000000001v-7.6M456.2 13.2v7.6M456.2 952.4250000000001v-7.6M477.0 13.2v7.6M477.0 952.4250000000001v-7.6M497.8 13.2v7.6M497.8 952.4250000000001v-7.6M518.6 13.2v7.6M518.6 952.4250000000001v-7.6M560.2 13.2v7.6M560.2 952.4250000000001v-7.6M580.9 13.2v7.6M580.9 952.4250000000001v-7.6M601.7 13.2v7.6M601.7 952.4250000000001v-7.6M622.5 13.2v7.6M622.5 952.4250000000001v-7.6M664.1 13.2v7.6M664.1 952.4250000000001v-7.6M684.9 13.2v7.6M684.9 952.4250000000001v-7.6M705.7 13.2v7.6M705.7 952.4250000000001v-7.6M726.5 13.2v7.6M726.5 952.4250000000001v-7.6M768.0 13.2v7.6M768.0 952.4250000000001v-7.6M788.8 13.2v7.6M788.8 952.4250000000001v-7.6M809.6 13.2v7.6M809.6 952.4250000000001v-7.6M830.4 13.2v7.6M830.4 952.4250000000001v-7.6M872.0 13.2v7.6M872.0 952.4250000000001v-7.6M892.8 13.2v7.6M892.8 952.4250000000001v-7.6M913.6 13.2v7.6M913.6 952.4250000000001v-7.6M934.4 13.2v7.6M934.4 952.4250000000001v-7.6M975.9 13.2v7.6M975.9 952.4250000000001v-7.6M996.7 13.2v7.6M996.7 952.4250000000001v-7.6M1017.5 13.2v7.6M1017.5 952.4250000000001v-7.6M1038.3 13.2v7.6M1038.3 952.4250000000001v-7.6M1079.9 13.2v7.6M1079.9 952.4250000000001v-7.6M1100.7 13.2v7.6M1100.7 952.4250000000001v-7.6M1121.5 13.2v7.6M1121.5 952.4250000000001v-7.6M1142.2 13.2v7.6M1142.2 952.4250000000001v-7.6M1183.8 13.2v7.6M1183.8 952.4250000000001v-7.6M1204.6 13.2v7.6M1204.6 952.4250000000001v-7.6M1225.4 13.2v7.6M1225.4 952.4250000000001v-7.6M1246.2 13.2v7.6M1246.2 952.4250000000001v-7.6M1287.8 13.2v7.6M1287.8 952.4250000000001v-7.6M1308.5 13.2v7.6M1308.5 952.4250000000001v-7.6M1329.3 13.2v7.6M1329.3 952.4250000000001v-7.6M1350.1 13.2v7.6M1350.1 952.4250000000001v-7.6M1391.7 13.2v7.6M1391.7 952.4250000000001v-7.6M1412.5 13.2v7.6M1412.5 952.4250000000001v-7.6M1433.3 13.2v7.6M1433.3 952.4250000000001v-7.6M1454.1 13.2v7.6M1454.1 952.4250000000001v-7.6M1495.6 13.2v7.6M1495.6 952.4250000000001v-7.6M1516.4 13.2v7.6M1516.4 952.4250000000001v-7.6M1537.2 13.2v7.6M1537.2 952.4250000000001v-7.6M1558.0 13.2v7.6M1558.0 952.4250000000001v-7.6M123.6 25.7h7.6M1578.8 25.7h-7.6M123.6 38.2h7.6M1578.8 38.2h-7.6M123.6 50.8h7.6M1578.8 50.8h-7.6M123.6 63.3h7.6M1578.8 63.3h-7.6M123.6 75.8h7.6M1578.8 75.8h-7.6M123.6 88.3h7.6M1578.8 88.3h-7.6M123.6 100.9h7.6M1578.8 100.9h-7.6M123.6 113.4h7.6M1578.8 113.4h-7.6M123.6 125.9h7.6M1578.8 125.9h-7.6M123.6 151.0h7.6M1578.8 151.0h-7.6M123.6 163.5h7.6M1578.8 163.5h-7.6M123.6 176.0h7.6M1578.8 176.0h-7.6M123.6 188.5h7.6M1578.8 188.5h-7.6M123.6 201.0h7.6M1578.8 201.0h-7.6M123.6 213.6h7.6M1578.8 213.6h-7.6M123.6 226.1h7.6M1578.8 226.1h-7.6M123.6 238.6h7.6M1578.8 238.6h-7.6M123.6 251.1h7.6M1578.8 251.1h-7.6M123.6 276.2h7.6M1578.8 276.2h-7.6M123.6 288.7h7.6M1578.8 288.7h-7.6M123.6 301.2h7.6M1578.8 301.2h-7.6M123.6 313.8h7.6M1578.8 313.8h-7.6M123.6 326.3h7.6M1578.8 326.3h-7.6M123.6 338.8h7.6M1578.8 338.8h-7.6M123.6 351.3h7.6M1578.8 351.3h-7.6M123.6 363.8h7.6M1578.8 363.8h-7.6M123.6 376.4h7.6M1578.8 376.4h-7.6M123.6 401.4h7.6M1578.8 401.4h-7.6M123.6 413.9h7.6M1578.8 413.9h-7.6M123.6 426.5h7.6M1578.8 426.5h-7.6M123.6 439.0h7.6M1578.8 439.0h-7.6M123.6 451.5h7.6M1578.8 451.5h-7.6M123.6 464.0h7.6M1578.8 464.0h-7.6M123.6 476.6h7.6M1578.8 476.6h-7.6M123.6 489.1h7.6M1578.8 489.1h-7.6M123.6 501.6h7.6M1578.8 501.6h-7.6M123.6 526.6h7.6M1578.8 526.6h-7.6M123.6 539.2h7.6M1578.8 539.2h-7.6M123.6 551.7h7.6M1578.8 551.7h-7.6M123.6 564.2h7.6M1578.8 564.2h-7.6M123.6 576.7h7.6M1578.8 576.7h-7.6M123.6 589.3h7.6M1578.8 589.3h-7.6M123.6 601.8h7.6M1578.8 601.8h-7.6M123.6 614.3h7.6M1578.8 614.3h-7.6M123.6 626.8h7.6M1578.8 626.8h-7.6M123.6 651.9h7.6M1578.8 651.9h-7.6M123.6 664.4h7.6M1578.8 664.4h-7.6M123.6 676.9h7.6M1578.8 676.9h-7.6M123.6 689.4h7.6M1578.8 689.4h-7.6M123.6 702.0h7.6M1578.8 702.0h-7.6M123.6 714.5h7.6M1578.8 714.5h-7.6M123.6 727.0h7.6M1578.8 727.0h-7.6M123.6 739.5h7.6M1578.8 739.5h-7.6M123.6 752.1h7.6M1578.8 752.1h-7.6M123.6 777.1h7.6M1578.8 777.1h-7.6M123.6 789.6h7.6M1578.8 789.6h-7.6M123.6 802.1h7.6M1578.8 802.1h-7.6M123.6 814.7h7.6M1578.8 814.7h-7.6M123.6 827.2h7.6M1578.8 827.2h-7.6M123.6 839.7h7.6M1578.8 839.7h-7.6M123.6 852.2h7.6M1578.8 852.2h-7.6M123.6 864.8h7.6M1578.8 864.8h-7.6M123.6 877.3h7.6M1578.8 877.3h-7.6M123.6 902.3h7.6M1578.8 902.3h-7.6M123.6 914.9h7.6M1578.8 914.9h-7.6M123.6 927.4h7.6M1578.8 927.4h-7.6M123.6 939.9h7.6M1578.8 939.9h-7.6M123.6 952.4h7.6M1578.8 952.4h-7.6"/>
<rect class="fr" x="123.6" y="13.2" width="1455.2" height="939.2"/>
<g class="tlx" text-anchor="middle">
<text x="123.6" y="993.5">80</text>
<text x="227.5" y="993.5">75</text>
<text x="331.5" y="993.5">70</text>
<text x="435.4" y="993.5">65</text>
<text x="539.4" y="993.5">60</text>
<text x="643.3" y="993.5">55</text>
<text x="747.3" y="993.5">50</text>
<text x="851.2" y="993.5">45</text>
<text x="955.1" y="993.5">40</text>
<text x="1059.1" y="993.5">35</text>
<text x="1163.0" y="993.5">30</text>
<text x="1267.0" y="993.5">25</text>
<text x="1370.9" y="993.5">20</text>
<text x="1474.9" y="993.5">15</text>
<text x="1578.8" y="993.5">10</text>
</g><g class="tl0" text-anchor="end">
<text x="110.3" y="27.7">3</text>
<text x="110.3" y="152.9">2</text>
<text x="110.3" y="278.2">1</text>
<text x="110.3" y="403.4">0</text>
<text x="110.3" y="528.6">−1</text>
<text x="110.3" y="653.9">−2</text>
<text x="110.3" y="779.1">−3</text>
<text x="110.3" y="904.3">−4</text>
</g>
<text class="xl" y="1045.6"><tspan x="740.4">T</tspan><tspan class="sub" x="763.6" dy="5">eff</tspan><tspan x="805.6" dy="-5">(1000</tspan><tspan x="921.4">K)</tspan></text>
<text class="xl" text-anchor="middle" transform="translate(28.2 482.7) rotate(-90)">log(y)</text>
<g class="an" fill="#ff00ff">
<text transform="translate(179 335.7) rotate(-90)">He-rich</text>
<text transform="translate(179 773.4) rotate(-90)" style="font-size:44.6px">He-deficient</text>
<text x="1432.6" y="351.8" fill="#32cd32">eHe</text>
<text x="1432.6" y="477.1">iHe</text>
<text x="1432.6" y="602.3">wHe</text>
<text x="1432.6" y="765.1">pHe</text>

</g>
<g class="dg">
<text x="735.7" y="263.7" fill="#32cd32">1</text>
<text x="929.8" y="189.1" fill="#32cd32">2</text>
<text x="985.8" y="439.0" fill="#ff00ff">1</text>
<text x="1225.3" y="476.6" fill="#ff00ff">2</text>
</g>
<rect x="1135.4" y="31.85" width="424.7" height="190.2" rx="7.2" fill="#fff" fill-opacity="0.8" stroke="#ccc" stroke-width="2.85"/>
<path class="eb" d="M1168.8 63.6h37.5M1187.55 44.8v37.6"/>
<circle cx="1187.55" cy="63.6" r="5.65" fill="#008000"/>
<text class="lg" y="74.5"><tspan x="1255.1">logg</tspan><tspan x="1342.6">&lt;</tspan><tspan x="1380.8">5.5</tspan></text>
<path class="eb" d="M1168.8 123.2h37.5M1187.55 104.4v37.6"/>
<circle cx="1187.55" cy="123.2" r="5.65" fill="#ff0000"/>
<text class="lg" y="134.1"><tspan x="1254.7">5.5</tspan><tspan x="1321.3">≤</tspan><tspan x="1358.1">logg</tspan><tspan x="1447.3">≤</tspan><tspan x="1484.2">5.7</tspan></text>
<path class="eb" d="M1168.8 182.8h37.5M1187.55 164.0v37.6"/>
<circle cx="1187.55" cy="182.8" r="5.65" fill="#0000ff"/>
<text class="lg" y="193.7"><tspan x="1255.1">logg</tspan><tspan x="1342.6">&gt;</tspan><tspan x="1380.8">5.7</tspan></text>
</g>
<g>
<g clip-path="url(#clip1)">
<rect x="128.1" y="1140.3" width="73.8" height="939.2" fill="#d3d3d3"/>
<ellipse cx="747.3" cy="1390.8" rx="87" ry="85.2" fill="#d3d3d3"/>
<ellipse cx="924" cy="1334.3" rx="131.3" ry="65.8" transform="rotate(-65.4 924 1334.3)" fill="#d3d3d3"/>
<ellipse cx="986.3" cy="1566.1" rx="87" ry="85.2" fill="#d3d3d3"/>
<ellipse cx="1225.4" cy="1603.7" rx="87" ry="60" fill="#d3d3d3"/>
<path class="eb" d="M40.8 1324H363.2M202 1285.2V1362.8M60.2 1476H366.8M213.5 1459.8V1492.2M35.5 1511.2H335.5M426.2 1381H513.8M470 1294.2V1467.8M408 1407.5H494M451 1379.5V1435.5M477.2 1439.2H521.2M438 1525.8H508M489.8 1343.8H558.2M524 1270V1417.5M571.5 1344.2H642.5M607 1260.5V1428M632.5 1361.2H655M643.8 1288V1434.5M703.8 1251.8H730.2M717 1198.8V1304.8M808.8 1288.5H826.2M817.5 1267.2V1309.8M810.8 1308.5H828.2M819.5 1282.2V1334.8M663.5 1373.2H716M689.8 1285.2V1461.2M673 1415H700.5M686.8 1400V1430M690.5 1429.8H720.5M705.5 1405.5V1454M705.2 1437.2H735.2M720.2 1420.2V1454.2M814.2 1384.2H829.2M821.8 1356V1412.5M762.2 1431.2H820.8M791.5 1395.5V1467M864.5 1353H894.5M879.5 1303V1403M573 1452.8H618M595.5 1434.2V1471.2M664.2 1473.2H714.2M689.2 1425.8V1520.8M659 1498H720.5M689.8 1476V1520M506.5 1505.8H554M530.2 1498.2V1513.2M918.5 1247.5V1286M923.2 1270.8V1323.2M409.5 1568.2H499.5M454.5 1555.2V1581.2M145.2 1589.2H392.8M269 1574.8V1603.8M370 1796.2H439M404.5 1780V1812.5M434 1854H515M474.5 1830.2V1877.8M615.5 1541.8H663M639.2 1528V1555.5M528.2 1595.2H590.8M559.5 1584.8V1605.8M772.2 1568.5H788.2M747.2 1636.2H769.8M715.5 1673.5H743M729.2 1666.5V1680.5M600.5 1683.5H628M614.2 1674.8V1692.2M636 1698.2H718.5M677.2 1679V1717.5M574.5 1717.2H620.5M597.5 1703.5V1731M704.5 1722H783M743.8 1697.5V1746.5M655.5 1745.2H704.5M680 1730.8V1759.8M599.2 1758H647.8M623.5 1746.8V1769.2M774.5 1757.2H793.5M784 1748.5V1766M739.8 1779.8H795.8M767.8 1749.2V1810.2M801.2 1797.2H831.2M816.2 1784.2V1810.2M699.2 1847.2H738.2M718.8 1824V1870.5M836 1858.2H866M851 1842V1874.5M984.2 1578.5H999.2M991.8 1571V1586M1126.8 1619.5H1155.8M1141.2 1607.5V1631.5M940.5 1648H959.5M950 1639.2V1656.8M954.2 1674H983.2M968.8 1661.5V1686.5M972 1690.8H987M971.2 1701.8H992.2M976.2 1711.2H991.2M944 1717.2H963M1006.5 1705.8H1027.5M1017 1695.8V1715.8M993.5 1723H1012.5M1003 1711.8V1734.2M1020 1729.5H1040M1029.2 1717.8H1076.8M1147.8 1734.5H1163.8M1155.8 1725.8V1743.2M1042 1744.5H1067M1081.2 1753.8H1108.8M1011.5 1752.5H1041.5M1026.5 1737.5V1767.5M923 1754.8H965.5M944.2 1734.2V1775.2M1194.2 1752.5H1209.2M1216.2 1750.2H1252.2M1234.2 1738.2V1762.2M1037 1765.8H1054.5M1058.5 1754.8V1777.2M1069.2 1754.5V1777M1199.2 1774H1214.2M1145.2 1778.5H1170.2M1157.8 1763.5V1793.5M1103.2 1773V1790.5M1113.8 1776.2V1798.8M1043.2 1780V1795M1172.5 1785H1196.5M1184.5 1777.5V1792.5M1133.2 1801.8H1153.2M1190.8 1786.2V1813.8M1188.8 1801.5H1206.2M1228.2 1798.5H1250.8M1239.5 1787.2V1809.8M1050.2 1807.8H1075.2M1062.8 1784V1831.5M1111.8 1746.5V1896.5M1087 1808V1828M1124.5 1819.2H1144.5M1134.5 1805.5V1833M978.2 1817.8H998.2M1003.2 1824H1036.8M1020 1811.5V1836.5M1062 1812.5V1840M1039.5 1833.5H1067M1053.2 1791V1876M1105.8 1787.5V1912.5M1106.8 1843H1156.8M1156.2 1791.2V1916.2M1150.5 1793.2V1918.2M957 1863H984.5M970.8 1830.5V1895.5M976.5 1871.2H1017.5M997 1805V1937.5M1011 1864.2H1040M1025.5 1799.2V1929.2M1047 1862.5H1062M1054.5 1848.8V1876.2M1210 1798.8V1923.8M1198.8 1867.5H1223.8M1198 1878H1228M1178.8 1868.8H1216.2M1197.5 1806.2V1931.2M1127.5 1811.8V1936.8M1059.5 1881H1089.5M1074.5 1843.5V1918.5M1152.5 1831.2V1956.2M1166 1895.8H1191M1178.5 1820.8V1970.8M938.5 1899.5H968.5M953.5 1879.5V1919.5M1011.2 1899H1033.8M1265.8 1872V1892M1287.2 1859.2V1891.8M1090.8 1662.5V1910M982.5 1767.5V1927.5M903.8 1862.5V1957.5M1237.5 1800V1970M1170 1782.5V1937.5M1133.8 1805V1940M1056.2 1800V1945M1200 1802.5V1942.5M1012.5 1880V1940M1147.5 1835V1935M1220 1890V1955M1250 1897.5V1972.5M1267.5 1885V1935M1378.6 1772.7H1392.6M1385.6 1760.7V1784.8M1376.9 1799.2V1823.3M1305.8 1825.2H1338.6M1322.2 1809.9V1840.5M1294 1850.4H1320.2M1307.1 1832.9V1867.9M1316.5 1849.9V1876.2M1384.8 1844.9V1869M1312.8 1896.1H1342.5M1327.7 1863.3V1928.9M1369.7 1894.3H1382.8M1376.2 1874.7V1914M887.5 1926H921.5M904.5 1863.5V1988.5M1001.8 1949.2H1021.8M1011.8 1878V2020.5M1048.8 1922.5H1063.8M1056.2 1815V2030M1114.2 1900V1975M1148.5 1875.2V1980.2M1159.8 1913V1963M1187 1938.2H1202M1114 1964.2H1131.5M1122.8 1916.8V2011.8M1170.8 1964.2H1200.8M1185.8 1904.2V2024.2M1183 1983H1205.5M1194.2 1933V2033M971.5 2000H994M982.8 1890V2110M891.2 2021.2H915.2M903.2 1988.8V2053.8M1080.5 2053H1100.5M1090.5 1890.5V2215.5M1169.5 1891.8V2216.8M1169.2 2054.2H1186.8M1178 1891.8V2216.8M997 1891.2V1938.8M1026.2 1891.2V1928.8M1075 1892.5V1917.5M1196.3 1930.3H1215.1M1205.7 1913.4V1947.2M1207.6 1915.3V1956.6M1200.8 1940.3H1238.3M1219.6 1889.6V1990.9M1243.9 1929.9V1958.1M1269.3 1944.9H1284.3M1276.8 1903.7V1986.2M1234.9 1967.1H1266.8M1250.9 1897.7V2036.4M1260.6 1941.6V2012.8M1229.5 1986H1255.8M1242.6 1894.1V2077.9M1218.3 2049.6H1257.6M1237.9 1890.2V2208.9M1254.8 2053.9H1284.1M1269.4 1890.8V2217M1324.4 2017.7H1337.5M1330.9 1948.3V2087.1M1345 2028.8H1358.1M1351.6 1998.8V2058.8M1300.9 1910.6H1332.8M1316.9 1875V1946.3M1325.3 1899.8V1929.8M1333.9 1910.6H1365.8M1349.9 1862.8V1958.4M1360.2 1911.2V1948.7M1200.6 1890V1918.1"/>
<rect x="128.1" y="1140.3" width="73.8" height="506.4" fill="#808080"/>
<path class="hl" d="M123.6 1516.0H1578.8"/>
<path class="hl" d="M123.6 1641.2H1578.8"/>
<path class="hl" d="M123.6 1791.5H1578.8"/>
<path class="tl" d="M1370.9 1957.4L477.0 1231.0"/>
<path class="tl" d="M1287.8 2014.9L123.6 1531.0"/>
<path class="mkg" d="M213.5 1476h0M451 1407.5h0M499.2 1439.2h0M473 1525.8h0M643.8 1361.2h0M791.5 1431.2h0M758.5 1636.2h0M729.2 1673.5h0M623.5 1758h0M718.8 1847.2h0M851 1858.2h0M1224.2 1583.2h0M1268.8 1566.8h0M1041.5 1666h0M1266 1684.5h0M1080.8 1697h0M1132.8 1711.5h0M1053 1717.8h0M1087 1745h0M1095 1753.8h0M1074.2 1751.5h0M1201.8 1752.5h0M1045.8 1765.8h0M1206.8 1774h0M1190.8 1800h0M1248.2 1810.8h0M1097 1815.5h0M1111.8 1821.5h0M1020 1824h0M1142.5 1826.2h0M1105.8 1850h0M1166.5 1843.8h0M1156.2 1853.8h0M1210 1861.2h0M1211.2 1867.5h0M1212.5 1872.5h0M1213 1878h0M1197.5 1868.8h0M1127.5 1874.2h0M1074.5 1881h0M1110.5 1887.8h0M1152.5 1893.8h0M1178.5 1895.8h0M953.5 1899.5h0M1022.5 1899h0M1265.8 1882h0M1287.2 1875.5h0M1385.6 1772.7h0M1376.9 1811.2h0M1322.2 1825.2h0M1307.1 1850.4h0M1316.5 1863.1h0M1384.8 1856.9h0M1327.7 1896.1h0M1376.2 1894.3h0M904.5 1926h0M1153.8 1927.5h0M1122.8 1964.2h0M1185.8 1964.2h0M1194.2 1983h0M903.2 2021.2h0M1219.6 1940.3h0M1260.6 1977.2h0M1237.9 2049.6h0M1330.9 2017.7h0M1351.6 2028.8h0M1316.9 1910.6h0M1325.3 1914.8h0M1349.9 1910.6h0M1360.2 1929.9h0"/>
<path class="mkr" d="M817.5 1288.5h0M720.2 1437.2h0M879.5 1359.2h0M595.5 1452.8h0M963 1443.5h0M816.2 1797.2h0M984.2 1549.5h0M948.2 1597h0M988.8 1676.2h0M1030 1729.5h0M1040.2 1729.5h0M1088.8 1732h0M1158.2 1743.5h0M1016.5 1743h0M1050.5 1751.5h0M1063.8 1750.5h0M944.2 1754.8h0M1135.5 1757.5h0M1234.2 1750.2h0M1132.5 1784h0M1102.5 1795.5h0M1153 1828.2h0M1107 1842h0M1106.2 1847h0M1124.5 1849.5h0M1150.5 1855.8h0M1151.2 1868h0M997 1871.2h0M1138 1907.5h0M1011.8 1949.2h0M1159.8 1938h0M1090.5 2053h0M1243.9 1944h0M1276.8 1944.9h0M1242.6 1986h0M1269.4 2053.9h0"/>
<path class="mkb" d="M202 1324h0M125 1429.5h0M185.5 1511.2h0M470 1381h0M524 1343.8h0M607 1344.2h0M717 1251.8h0M836.8 1272.5h0M819.5 1308.5h0M689.8 1373.2h0M686.8 1415h0M705.5 1429.8h0M821.8 1384.2h0M879.5 1353h0M689.2 1473.2h0M689.8 1498h0M530.2 1505.8h0M918.5 1266.8h0M923.2 1297h0M454.5 1568.2h0M269 1589.2h0M404.5 1796.2h0M474.5 1854h0M639.2 1541.8h0M559.5 1595.2h0M780.2 1568.5h0M614.2 1683.5h0M677.2 1698.2h0M597.5 1717.2h0M743.8 1722h0M680 1745.2h0M784 1757.2h0M767.8 1779.8h0M930.2 1552h0M991.8 1578.5h0M1141.2 1619.5h0M950 1648h0M968.8 1674h0M994 1672.8h0M979.5 1690.8h0M981.8 1701.8h0M983.8 1711.2h0M953.5 1717.2h0M1017 1705.8h0M1013.8 1710.2h0M1003 1723h0M1008 1728.2h0M1015.5 1724h0M1058.8 1713h0M1060.5 1722h0M1088.2 1722h0M1155.8 1734.5h0M1057 1738.5h0M1054.5 1744.5h0M1086.2 1750h0M1026.5 1752.5h0M1058.5 1766h0M1069.2 1765.8h0M1157.8 1778.5h0M1103.2 1781.8h0M1138 1782.5h0M1113.8 1787.5h0M1043.2 1787.5h0M1184.5 1785h0M1143.2 1801.8h0M1179.8 1802.5h0M1197.5 1801.5h0M1239.5 1798.5h0M1062.8 1807.8h0M1104.5 1810h0M1110.5 1809.2h0M1112 1813.8h0M1087 1818h0M1134.5 1819.2h0M988.2 1817.8h0M1062 1826.2h0M1053.2 1833.5h0M1156.8 1830.8h0M1179.2 1830h0M1182.5 1838.5h0M1178.8 1841.2h0M1102 1841.5h0M1126.2 1844.5h0M1131.8 1843h0M1151.2 1841.5h0M1132 1855h0M1124.2 1858.2h0M1108 1860h0M1145.5 1862.5h0M1157.5 1864.5h0M1168 1860h0M1171.5 1862.5h0M970.8 1863h0M1025.5 1864.2h0M1054.5 1862.5h0M1200 1866.5h0M1103.2 1878h0M1121 1878h0M1160.2 1880h0M1138.2 1896.5h0M1122.5 1900h0M1155 1900h0M1056.2 1922.5h0M1114.2 1937.5h0M1148.5 1927.8h0M1194.5 1938.2h0M982.8 2000h0M1169.5 2054.2h0M1178 2054.2h0M1205.7 1930.3h0M1207.6 1935.9h0M1250.9 1967.1h0"/>
</g>
<path class="tk" d="M123.6 1140.3v13.3M123.6 2079.525v-13.3M227.5 1140.3v13.3M227.5 2079.525v-13.3M331.5 1140.3v13.3M331.5 2079.525v-13.3M435.4 1140.3v13.3M435.4 2079.525v-13.3M539.4 1140.3v13.3M539.4 2079.525v-13.3M643.3 1140.3v13.3M643.3 2079.525v-13.3M747.3 1140.3v13.3M747.3 2079.525v-13.3M851.2 1140.3v13.3M851.2 2079.525v-13.3M955.1 1140.3v13.3M955.1 2079.525v-13.3M1059.1 1140.3v13.3M1059.1 2079.525v-13.3M1163.0 1140.3v13.3M1163.0 2079.525v-13.3M1267.0 1140.3v13.3M1267.0 2079.525v-13.3M1370.9 1140.3v13.3M1370.9 2079.525v-13.3M1474.9 1140.3v13.3M1474.9 2079.525v-13.3M1578.8 1140.3v13.3M1578.8 2079.525v-13.3M123.6 1140.3h13.3M1578.8 1140.3h-13.3M123.6 1265.5h13.3M1578.8 1265.5h-13.3M123.6 1390.8h13.3M1578.8 1390.8h-13.3M123.6 1516.0h13.3M1578.8 1516.0h-13.3M123.6 1641.2h13.3M1578.8 1641.2h-13.3M123.6 1766.4h13.3M1578.8 1766.4h-13.3M123.6 1891.7h13.3M1578.8 1891.7h-13.3M123.6 2016.9h13.3M1578.8 2016.9h-13.3"/>
<path class="mk" d="M144.4 1140.3v7.6M144.4 2079.525v-7.6M165.2 1140.3v7.6M165.2 2079.525v-7.6M186.0 1140.3v7.6M186.0 2079.525v-7.6M206.8 1140.3v7.6M206.8 2079.525v-7.6M248.3 1140.3v7.6M248.3 2079.525v-7.6M269.1 1140.3v7.6M269.1 2079.525v-7.6M289.9 1140.3v7.6M289.9 2079.525v-7.6M310.7 1140.3v7.6M310.7 2079.525v-7.6M352.3 1140.3v7.6M352.3 2079.525v-7.6M373.1 1140.3v7.6M373.1 2079.525v-7.6M393.9 1140.3v7.6M393.9 2079.525v-7.6M414.6 1140.3v7.6M414.6 2079.525v-7.6M456.2 1140.3v7.6M456.2 2079.525v-7.6M477.0 1140.3v7.6M477.0 2079.525v-7.6M497.8 1140.3v7.6M497.8 2079.525v-7.6M518.6 1140.3v7.6M518.6 2079.525v-7.6M560.2 1140.3v7.6M560.2 2079.525v-7.6M580.9 1140.3v7.6M580.9 2079.525v-7.6M601.7 1140.3v7.6M601.7 2079.525v-7.6M622.5 1140.3v7.6M622.5 2079.525v-7.6M664.1 1140.3v7.6M664.1 2079.525v-7.6M684.9 1140.3v7.6M684.9 2079.525v-7.6M705.7 1140.3v7.6M705.7 2079.525v-7.6M726.5 1140.3v7.6M726.5 2079.525v-7.6M768.0 1140.3v7.6M768.0 2079.525v-7.6M788.8 1140.3v7.6M788.8 2079.525v-7.6M809.6 1140.3v7.6M809.6 2079.525v-7.6M830.4 1140.3v7.6M830.4 2079.525v-7.6M872.0 1140.3v7.6M872.0 2079.525v-7.6M892.8 1140.3v7.6M892.8 2079.525v-7.6M913.6 1140.3v7.6M913.6 2079.525v-7.6M934.4 1140.3v7.6M934.4 2079.525v-7.6M975.9 1140.3v7.6M975.9 2079.525v-7.6M996.7 1140.3v7.6M996.7 2079.525v-7.6M1017.5 1140.3v7.6M1017.5 2079.525v-7.6M1038.3 1140.3v7.6M1038.3 2079.525v-7.6M1079.9 1140.3v7.6M1079.9 2079.525v-7.6M1100.7 1140.3v7.6M1100.7 2079.525v-7.6M1121.5 1140.3v7.6M1121.5 2079.525v-7.6M1142.2 1140.3v7.6M1142.2 2079.525v-7.6M1183.8 1140.3v7.6M1183.8 2079.525v-7.6M1204.6 1140.3v7.6M1204.6 2079.525v-7.6M1225.4 1140.3v7.6M1225.4 2079.525v-7.6M1246.2 1140.3v7.6M1246.2 2079.525v-7.6M1287.8 1140.3v7.6M1287.8 2079.525v-7.6M1308.5 1140.3v7.6M1308.5 2079.525v-7.6M1329.3 1140.3v7.6M1329.3 2079.525v-7.6M1350.1 1140.3v7.6M1350.1 2079.525v-7.6M1391.7 1140.3v7.6M1391.7 2079.525v-7.6M1412.5 1140.3v7.6M1412.5 2079.525v-7.6M1433.3 1140.3v7.6M1433.3 2079.525v-7.6M1454.1 1140.3v7.6M1454.1 2079.525v-7.6M1495.6 1140.3v7.6M1495.6 2079.525v-7.6M1516.4 1140.3v7.6M1516.4 2079.525v-7.6M1537.2 1140.3v7.6M1537.2 2079.525v-7.6M1558.0 1140.3v7.6M1558.0 2079.525v-7.6M123.6 1152.8h7.6M1578.8 1152.8h-7.6M123.6 1165.3h7.6M1578.8 1165.3h-7.6M123.6 1177.9h7.6M1578.8 1177.9h-7.6M123.6 1190.4h7.6M1578.8 1190.4h-7.6M123.6 1202.9h7.6M1578.8 1202.9h-7.6M123.6 1215.4h7.6M1578.8 1215.4h-7.6M123.6 1228.0h7.6M1578.8 1228.0h-7.6M123.6 1240.5h7.6M1578.8 1240.5h-7.6M123.6 1253.0h7.6M1578.8 1253.0h-7.6M123.6 1278.1h7.6M1578.8 1278.1h-7.6M123.6 1290.6h7.6M1578.8 1290.6h-7.6M123.6 1303.1h7.6M1578.8 1303.1h-7.6M123.6 1315.6h7.6M1578.8 1315.6h-7.6M123.6 1328.1h7.6M1578.8 1328.1h-7.6M123.6 1340.7h7.6M1578.8 1340.7h-7.6M123.6 1353.2h7.6M1578.8 1353.2h-7.6M123.6 1365.7h7.6M1578.8 1365.7h-7.6M123.6 1378.2h7.6M1578.8 1378.2h-7.6M123.6 1403.3h7.6M1578.8 1403.3h-7.6M123.6 1415.8h7.6M1578.8 1415.8h-7.6M123.6 1428.3h7.6M1578.8 1428.3h-7.6M123.6 1440.9h7.6M1578.8 1440.9h-7.6M123.6 1453.4h7.6M1578.8 1453.4h-7.6M123.6 1465.9h7.6M1578.8 1465.9h-7.6M123.6 1478.4h7.6M1578.8 1478.4h-7.6M123.6 1490.9h7.6M1578.8 1490.9h-7.6M123.6 1503.5h7.6M1578.8 1503.5h-7.6M123.6 1528.5h7.6M1578.8 1528.5h-7.6M123.6 1541.0h7.6M1578.8 1541.0h-7.6M123.6 1553.6h7.6M1578.8 1553.6h-7.6M123.6 1566.1h7.6M1578.8 1566.1h-7.6M123.6 1578.6h7.6M1578.8 1578.6h-7.6M123.6 1591.1h7.6M1578.8 1591.1h-7.6M123.6 1603.7h7.6M1578.8 1603.7h-7.6M123.6 1616.2h7.6M1578.8 1616.2h-7.6M123.6 1628.7h7.6M1578.8 1628.7h-7.6M123.6 1653.7h7.6M1578.8 1653.7h-7.6M123.6 1666.3h7.6M1578.8 1666.3h-7.6M123.6 1678.8h7.6M1578.8 1678.8h-7.6M123.6 1691.3h7.6M1578.8 1691.3h-7.6M123.6 1703.8h7.6M1578.8 1703.8h-7.6M123.6 1716.4h7.6M1578.8 1716.4h-7.6M123.6 1728.9h7.6M1578.8 1728.9h-7.6M123.6 1741.4h7.6M1578.8 1741.4h-7.6M123.6 1753.9h7.6M1578.8 1753.9h-7.6M123.6 1779.0h7.6M1578.8 1779.0h-7.6M123.6 1791.5h7.6M1578.8 1791.5h-7.6M123.6 1804.0h7.6M1578.8 1804.0h-7.6M123.6 1816.5h7.6M1578.8 1816.5h-7.6M123.6 1829.1h7.6M1578.8 1829.1h-7.6M123.6 1841.6h7.6M1578.8 1841.6h-7.6M123.6 1854.1h7.6M1578.8 1854.1h-7.6M123.6 1866.6h7.6M1578.8 1866.6h-7.6M123.6 1879.2h7.6M1578.8 1879.2h-7.6M123.6 1904.2h7.6M1578.8 1904.2h-7.6M123.6 1916.7h7.6M1578.8 1916.7h-7.6M123.6 1929.2h7.6M1578.8 1929.2h-7.6M123.6 1941.8h7.6M1578.8 1941.8h-7.6M123.6 1954.3h7.6M1578.8 1954.3h-7.6M123.6 1966.8h7.6M1578.8 1966.8h-7.6M123.6 1979.3h7.6M1578.8 1979.3h-7.6M123.6 1991.9h7.6M1578.8 1991.9h-7.6M123.6 2004.4h7.6M1578.8 2004.4h-7.6M123.6 2029.4h7.6M1578.8 2029.4h-7.6M123.6 2042.0h7.6M1578.8 2042.0h-7.6M123.6 2054.5h7.6M1578.8 2054.5h-7.6M123.6 2067.0h7.6M1578.8 2067.0h-7.6M123.6 2079.5h7.6M1578.8 2079.5h-7.6"/>
<rect class="fr" x="123.6" y="1140.3" width="1455.2" height="939.2"/>
<g class="tlx" text-anchor="middle">
<text x="123.6" y="2120.6">80</text>
<text x="227.5" y="2120.6">75</text>
<text x="331.5" y="2120.6">70</text>
<text x="435.4" y="2120.6">65</text>
<text x="539.4" y="2120.6">60</text>
<text x="643.3" y="2120.6">55</text>
<text x="747.3" y="2120.6">50</text>
<text x="851.2" y="2120.6">45</text>
<text x="955.1" y="2120.6">40</text>
<text x="1059.1" y="2120.6">35</text>
<text x="1163.0" y="2120.6">30</text>
<text x="1267.0" y="2120.6">25</text>
<text x="1370.9" y="2120.6">20</text>
<text x="1474.9" y="2120.6">15</text>
<text x="1578.8" y="2120.6">10</text>
</g><g class="tl0" text-anchor="end">
<text x="110.3" y="1154.8">3</text>
<text x="110.3" y="1280.0">2</text>
<text x="110.3" y="1405.3">1</text>
<text x="110.3" y="1530.5">0</text>
<text x="110.3" y="1655.7">−1</text>
<text x="110.3" y="1780.9">−2</text>
<text x="110.3" y="1906.2">−3</text>
<text x="110.3" y="2031.4">−4</text>
</g>
<text class="xl" y="2172.7"><tspan x="740.4">T</tspan><tspan class="sub" x="763.6" dy="5">eff</tspan><tspan x="805.6" dy="-5">(1000</tspan><tspan x="921.4">K)</tspan></text>
<text class="xl" text-anchor="middle" transform="translate(28.2 1609.8) rotate(-90)">log(y)</text>
<g class="an" fill="#ff00ff">
<text transform="translate(179 1462.8) rotate(-90)">He-rich</text>
<text transform="translate(179 1900.5) rotate(-90)" style="font-size:44.6px">He-deficient</text>
<text x="1432.6" y="1478.9" fill="#32cd32">eHe</text>
<text x="1432.6" y="1604.2">iHe</text>
<text x="1432.6" y="1729.4">wHe</text>
<text x="1432.6" y="1892.2">pHe</text>
<text x="434.5" y="1202.8" style="font-size:44.85px">New hot subdwarfs</text>
</g>
<g class="dg">
<text x="735.7" y="1390.8" fill="#32cd32">1</text>
<text x="929.8" y="1316.2" fill="#32cd32">2</text>
<text x="985.8" y="1566.1" fill="#ff00ff">1</text>
<text x="1225.3" y="1603.7" fill="#ff00ff">2</text>
</g>
<rect x="1135.4" y="1158.95" width="424.7" height="190.2" rx="7.2" fill="#fff" fill-opacity="0.8" stroke="#ccc" stroke-width="2.85"/>
<path class="eb" d="M1168.8 1190.7h37.5M1187.55 1171.9v37.6"/>
<circle cx="1187.55" cy="1190.7" r="5.65" fill="#008000"/>
<text class="lg" y="1201.6"><tspan x="1255.1">logg</tspan><tspan x="1342.6">&lt;</tspan><tspan x="1380.8">5.5</tspan></text>
<path class="eb" d="M1168.8 1250.3h37.5M1187.55 1231.5v37.6"/>
<circle cx="1187.55" cy="1250.3" r="5.65" fill="#ff0000"/>
<text class="lg" y="1261.2"><tspan x="1254.7">5.5</tspan><tspan x="1321.3">≤</tspan><tspan x="1358.1">logg</tspan><tspan x="1447.3">≤</tspan><tspan x="1484.2">5.7</tspan></text>
<path class="eb" d="M1168.8 1309.9h37.5M1187.55 1291.1v37.6"/>
<circle cx="1187.55" cy="1309.9" r="5.65" fill="#0000ff"/>
<text class="lg" y="1320.8"><tspan x="1255.1">logg</tspan><tspan x="1342.6">&gt;</tspan><tspan x="1380.8">5.7</tspan></text>
</g>
</svg></body></html>
